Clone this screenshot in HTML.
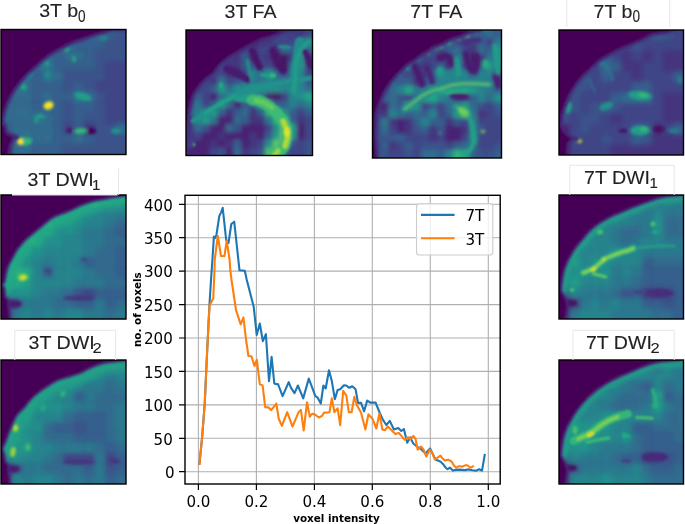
<!DOCTYPE html><html><head><meta charset="utf-8"><title>Figure</title><style>
html,body{margin:0;padding:0;background:#fff;width:685px;height:524px;overflow:hidden}
svg{display:block}
.t{font-family:"Liberation Sans",Arial,sans-serif;font-size:18.5px;fill:#222;stroke:#222;stroke-width:0.12px}
.tk{font-family:"DejaVu Sans",sans-serif;font-size:15.1px;fill:#000}
.sb{font-size:15px}
.lb{font-family:"DejaVu Sans",sans-serif;font-size:10.4px;font-weight:bold;fill:#000}
</style></head><body>
<svg width="685" height="524" viewBox="0 0 685 524">
<defs><filter id="soft" x="0" y="0" width="100%" height="100%" filterUnits="userSpaceOnUse"><feGaussianBlur stdDeviation="0.45"/></filter></defs>
<g filter="url(#soft)">
<rect width="685" height="524" fill="#fff"/>
<defs><clipPath id="cp1"><rect x="1.00" y="29.50" width="125.00" height="125.00"/></clipPath><filter id="bp1" x="-20%" y="-20%" width="140%" height="140%"><feGaussianBlur stdDeviation="2.80"/></filter><filter id="fp1" x="-50%" y="-50%" width="200%" height="200%"><feGaussianBlur stdDeviation="1.50"/></filter><clipPath id="cp2"><rect x="186.00" y="30.00" width="126.50" height="125.50"/></clipPath><filter id="bp2" x="-20%" y="-20%" width="140%" height="140%"><feGaussianBlur stdDeviation="2.20"/></filter><filter id="fp2" x="-50%" y="-50%" width="200%" height="200%"><feGaussianBlur stdDeviation="1.30"/></filter><clipPath id="cp3"><rect x="372.50" y="30.00" width="129.00" height="128.00"/></clipPath><filter id="bp3" x="-20%" y="-20%" width="140%" height="140%"><feGaussianBlur stdDeviation="2.20"/></filter><filter id="fp3" x="-50%" y="-50%" width="200%" height="200%"><feGaussianBlur stdDeviation="1.50"/></filter><clipPath id="cp4"><rect x="559.00" y="30.00" width="124.50" height="125.00"/></clipPath><filter id="bp4" x="-20%" y="-20%" width="140%" height="140%"><feGaussianBlur stdDeviation="2.80"/></filter><filter id="fp4" x="-50%" y="-50%" width="200%" height="200%"><feGaussianBlur stdDeviation="1.50"/></filter><clipPath id="cp5"><rect x="1.00" y="195.00" width="125.00" height="124.00"/></clipPath><filter id="bp5" x="-20%" y="-20%" width="140%" height="140%"><feGaussianBlur stdDeviation="2.80"/></filter><filter id="fp5" x="-50%" y="-50%" width="200%" height="200%"><feGaussianBlur stdDeviation="1.50"/></filter><filter id="cxp5" x="-20%" y="-20%" width="140%" height="140%"><feGaussianBlur stdDeviation="3.00"/></filter><clipPath id="cp6"><rect x="1.00" y="360.00" width="125.00" height="124.00"/></clipPath><filter id="bp6" x="-20%" y="-20%" width="140%" height="140%"><feGaussianBlur stdDeviation="2.80"/></filter><filter id="fp6" x="-50%" y="-50%" width="200%" height="200%"><feGaussianBlur stdDeviation="1.50"/></filter><filter id="cxp6" x="-20%" y="-20%" width="140%" height="140%"><feGaussianBlur stdDeviation="3.00"/></filter><clipPath id="cp7"><rect x="559.00" y="195.00" width="124.50" height="124.00"/></clipPath><filter id="bp7" x="-20%" y="-20%" width="140%" height="140%"><feGaussianBlur stdDeviation="2.80"/></filter><filter id="fp7" x="-50%" y="-50%" width="200%" height="200%"><feGaussianBlur stdDeviation="1.00"/></filter><filter id="cxp7" x="-20%" y="-20%" width="140%" height="140%"><feGaussianBlur stdDeviation="2.20"/></filter><clipPath id="cp8"><rect x="559.00" y="360.00" width="124.50" height="124.00"/></clipPath><filter id="bp8" x="-20%" y="-20%" width="140%" height="140%"><feGaussianBlur stdDeviation="2.80"/></filter><filter id="fp8" x="-50%" y="-50%" width="200%" height="200%"><feGaussianBlur stdDeviation="1.00"/></filter><filter id="cxp8" x="-20%" y="-20%" width="140%" height="140%"><feGaussianBlur stdDeviation="2.20"/></filter><filter id="edge" x="-5%" y="-5%" width="110%" height="110%"><feGaussianBlur stdDeviation="1.0"/></filter></defs>
<g clip-path="url(#cp1)">
<rect x="1.00" y="29.50" width="125.00" height="125.00" fill="#440154"/>
<g filter="url(#bp1)"><rect x="-9.00" y="19.50" width="20.72" height="20.72" fill="#306c8e"/><rect x="11.42" y="19.50" width="10.72" height="20.72" fill="#306c8e"/><rect x="21.83" y="19.50" width="10.72" height="20.72" fill="#306c8e"/><rect x="32.25" y="19.50" width="10.72" height="20.72" fill="#306c8e"/><rect x="42.67" y="19.50" width="10.72" height="20.72" fill="#306c8e"/><rect x="53.08" y="19.50" width="10.72" height="20.72" fill="#306c8e"/><rect x="63.50" y="19.50" width="10.72" height="20.72" fill="#306c8e"/><rect x="73.92" y="19.50" width="10.72" height="20.72" fill="#355f8d"/><rect x="84.33" y="19.50" width="10.72" height="20.72" fill="#32658d"/><rect x="94.75" y="19.50" width="10.72" height="20.72" fill="#306c8e"/><rect x="105.17" y="19.50" width="10.72" height="20.72" fill="#355f8d"/><rect x="115.58" y="19.50" width="20.72" height="20.72" fill="#3b528a"/><rect x="-9.00" y="39.92" width="20.72" height="10.72" fill="#306c8e"/><rect x="11.42" y="39.92" width="10.72" height="10.72" fill="#306c8e"/><rect x="21.83" y="39.92" width="10.72" height="10.72" fill="#306c8e"/><rect x="32.25" y="39.92" width="10.72" height="10.72" fill="#306c8e"/><rect x="42.67" y="39.92" width="10.72" height="10.72" fill="#306c8e"/><rect x="53.08" y="39.92" width="10.72" height="10.72" fill="#32658d"/><rect x="63.50" y="39.92" width="10.72" height="10.72" fill="#306c8e"/><rect x="73.92" y="39.92" width="10.72" height="10.72" fill="#355f8d"/><rect x="84.33" y="39.92" width="10.72" height="10.72" fill="#355f8d"/><rect x="94.75" y="39.92" width="10.72" height="10.72" fill="#355f8d"/><rect x="105.17" y="39.92" width="10.72" height="10.72" fill="#3b528a"/><rect x="115.58" y="39.92" width="20.72" height="10.72" fill="#3b528a"/><rect x="-9.00" y="50.33" width="20.72" height="10.72" fill="#306c8e"/><rect x="11.42" y="50.33" width="10.72" height="10.72" fill="#306c8e"/><rect x="21.83" y="50.33" width="10.72" height="10.72" fill="#306c8e"/><rect x="32.25" y="50.33" width="10.72" height="10.72" fill="#306c8e"/><rect x="42.67" y="50.33" width="10.72" height="10.72" fill="#306c8e"/><rect x="53.08" y="50.33" width="10.72" height="10.72" fill="#355f8d"/><rect x="63.50" y="50.33" width="10.72" height="10.72" fill="#306c8e"/><rect x="73.92" y="50.33" width="10.72" height="10.72" fill="#306c8e"/><rect x="84.33" y="50.33" width="10.72" height="10.72" fill="#355f8d"/><rect x="94.75" y="50.33" width="10.72" height="10.72" fill="#3b528a"/><rect x="105.17" y="50.33" width="10.72" height="10.72" fill="#3b528a"/><rect x="115.58" y="50.33" width="20.72" height="10.72" fill="#3b528a"/><rect x="-9.00" y="60.75" width="20.72" height="10.72" fill="#2d728e"/><rect x="11.42" y="60.75" width="10.72" height="10.72" fill="#306c8e"/><rect x="21.83" y="60.75" width="10.72" height="10.72" fill="#306c8e"/><rect x="32.25" y="60.75" width="10.72" height="10.72" fill="#306c8e"/><rect x="42.67" y="60.75" width="10.72" height="10.72" fill="#2a788e"/><rect x="53.08" y="60.75" width="10.72" height="10.72" fill="#355f8d"/><rect x="63.50" y="60.75" width="10.72" height="10.72" fill="#355f8d"/><rect x="73.92" y="60.75" width="10.72" height="10.72" fill="#355f8d"/><rect x="84.33" y="60.75" width="10.72" height="10.72" fill="#355f8d"/><rect x="94.75" y="60.75" width="10.72" height="10.72" fill="#3b528a"/><rect x="105.17" y="60.75" width="10.72" height="10.72" fill="#414487"/><rect x="115.58" y="60.75" width="20.72" height="10.72" fill="#414487"/><rect x="-9.00" y="71.17" width="20.72" height="10.72" fill="#2a788e"/><rect x="11.42" y="71.17" width="10.72" height="10.72" fill="#2d728e"/><rect x="21.83" y="71.17" width="10.72" height="10.72" fill="#306c8e"/><rect x="32.25" y="71.17" width="10.72" height="10.72" fill="#355f8d"/><rect x="42.67" y="71.17" width="10.72" height="10.72" fill="#2a788e"/><rect x="53.08" y="71.17" width="10.72" height="10.72" fill="#306c8e"/><rect x="63.50" y="71.17" width="10.72" height="10.72" fill="#3b528a"/><rect x="73.92" y="71.17" width="10.72" height="10.72" fill="#3b528a"/><rect x="84.33" y="71.17" width="10.72" height="10.72" fill="#3b528a"/><rect x="94.75" y="71.17" width="10.72" height="10.72" fill="#3b528a"/><rect x="105.17" y="71.17" width="10.72" height="10.72" fill="#414487"/><rect x="115.58" y="71.17" width="20.72" height="10.72" fill="#414487"/><rect x="-9.00" y="81.58" width="20.72" height="10.72" fill="#306c8e"/><rect x="11.42" y="81.58" width="10.72" height="10.72" fill="#2a788e"/><rect x="21.83" y="81.58" width="10.72" height="10.72" fill="#306c8e"/><rect x="32.25" y="81.58" width="10.72" height="10.72" fill="#355f8d"/><rect x="42.67" y="81.58" width="10.72" height="10.72" fill="#355f8d"/><rect x="53.08" y="81.58" width="10.72" height="10.72" fill="#355f8d"/><rect x="63.50" y="81.58" width="10.72" height="10.72" fill="#3b528a"/><rect x="73.92" y="81.58" width="10.72" height="10.72" fill="#355f8d"/><rect x="84.33" y="81.58" width="10.72" height="10.72" fill="#3b528a"/><rect x="94.75" y="81.58" width="10.72" height="10.72" fill="#414487"/><rect x="105.17" y="81.58" width="10.72" height="10.72" fill="#414487"/><rect x="115.58" y="81.58" width="20.72" height="10.72" fill="#414487"/><rect x="-9.00" y="92.00" width="20.72" height="10.72" fill="#355f8d"/><rect x="11.42" y="92.00" width="10.72" height="10.72" fill="#306c8e"/><rect x="21.83" y="92.00" width="10.72" height="10.72" fill="#306c8e"/><rect x="32.25" y="92.00" width="10.72" height="10.72" fill="#355f8d"/><rect x="42.67" y="92.00" width="10.72" height="10.72" fill="#306c8e"/><rect x="53.08" y="92.00" width="10.72" height="10.72" fill="#355f8d"/><rect x="63.50" y="92.00" width="10.72" height="10.72" fill="#355f8d"/><rect x="73.92" y="92.00" width="10.72" height="10.72" fill="#2a788e"/><rect x="84.33" y="92.00" width="10.72" height="10.72" fill="#306c8e"/><rect x="94.75" y="92.00" width="10.72" height="10.72" fill="#3b528a"/><rect x="105.17" y="92.00" width="10.72" height="10.72" fill="#414487"/><rect x="115.58" y="92.00" width="20.72" height="10.72" fill="#414487"/><rect x="-9.00" y="102.42" width="20.72" height="10.72" fill="#306c8e"/><rect x="11.42" y="102.42" width="10.72" height="10.72" fill="#306c8e"/><rect x="21.83" y="102.42" width="10.72" height="10.72" fill="#306c8e"/><rect x="32.25" y="102.42" width="10.72" height="10.72" fill="#355f8d"/><rect x="42.67" y="102.42" width="10.72" height="10.72" fill="#355f8d"/><rect x="53.08" y="102.42" width="10.72" height="10.72" fill="#355f8d"/><rect x="63.50" y="102.42" width="10.72" height="10.72" fill="#3b528a"/><rect x="73.92" y="102.42" width="10.72" height="10.72" fill="#355f8d"/><rect x="84.33" y="102.42" width="10.72" height="10.72" fill="#355f8d"/><rect x="94.75" y="102.42" width="10.72" height="10.72" fill="#3b528a"/><rect x="105.17" y="102.42" width="10.72" height="10.72" fill="#414487"/><rect x="115.58" y="102.42" width="20.72" height="10.72" fill="#414487"/><rect x="-9.00" y="112.83" width="20.72" height="10.72" fill="#306c8e"/><rect x="11.42" y="112.83" width="10.72" height="10.72" fill="#306c8e"/><rect x="21.83" y="112.83" width="10.72" height="10.72" fill="#306c8e"/><rect x="32.25" y="112.83" width="10.72" height="10.72" fill="#2a788e"/><rect x="42.67" y="112.83" width="10.72" height="10.72" fill="#306c8e"/><rect x="53.08" y="112.83" width="10.72" height="10.72" fill="#355f8d"/><rect x="63.50" y="112.83" width="10.72" height="10.72" fill="#3b528a"/><rect x="73.92" y="112.83" width="10.72" height="10.72" fill="#355f8d"/><rect x="84.33" y="112.83" width="10.72" height="10.72" fill="#3b528a"/><rect x="94.75" y="112.83" width="10.72" height="10.72" fill="#3b528a"/><rect x="105.17" y="112.83" width="10.72" height="10.72" fill="#414487"/><rect x="115.58" y="112.83" width="20.72" height="10.72" fill="#414487"/><rect x="-9.00" y="123.25" width="20.72" height="10.72" fill="#355f8d"/><rect x="11.42" y="123.25" width="10.72" height="10.72" fill="#306c8e"/><rect x="21.83" y="123.25" width="10.72" height="10.72" fill="#306c8e"/><rect x="32.25" y="123.25" width="10.72" height="10.72" fill="#306c8e"/><rect x="42.67" y="123.25" width="10.72" height="10.72" fill="#306c8e"/><rect x="53.08" y="123.25" width="10.72" height="10.72" fill="#355f8d"/><rect x="63.50" y="123.25" width="10.72" height="10.72" fill="#414487"/><rect x="73.92" y="123.25" width="10.72" height="10.72" fill="#355f8d"/><rect x="84.33" y="123.25" width="10.72" height="10.72" fill="#44347e"/><rect x="94.75" y="123.25" width="10.72" height="10.72" fill="#3b528a"/><rect x="105.17" y="123.25" width="10.72" height="10.72" fill="#3b528a"/><rect x="115.58" y="123.25" width="20.72" height="10.72" fill="#306c8e"/><rect x="-9.00" y="133.67" width="20.72" height="10.72" fill="#482475"/><rect x="11.42" y="133.67" width="10.72" height="10.72" fill="#306c8e"/><rect x="21.83" y="133.67" width="10.72" height="10.72" fill="#2a788e"/><rect x="32.25" y="133.67" width="10.72" height="10.72" fill="#306c8e"/><rect x="42.67" y="133.67" width="10.72" height="10.72" fill="#306c8e"/><rect x="53.08" y="133.67" width="10.72" height="10.72" fill="#355f8d"/><rect x="63.50" y="133.67" width="10.72" height="10.72" fill="#355f8d"/><rect x="73.92" y="133.67" width="10.72" height="10.72" fill="#306c8e"/><rect x="84.33" y="133.67" width="10.72" height="10.72" fill="#355f8d"/><rect x="94.75" y="133.67" width="10.72" height="10.72" fill="#3b528a"/><rect x="105.17" y="133.67" width="10.72" height="10.72" fill="#3b528a"/><rect x="115.58" y="133.67" width="20.72" height="10.72" fill="#3b528a"/><rect x="-9.00" y="144.08" width="20.72" height="20.72" fill="#461264"/><rect x="11.42" y="144.08" width="10.72" height="20.72" fill="#306c8e"/><rect x="21.83" y="144.08" width="10.72" height="20.72" fill="#306c8e"/><rect x="32.25" y="144.08" width="10.72" height="20.72" fill="#355f8d"/><rect x="42.67" y="144.08" width="10.72" height="20.72" fill="#355f8d"/><rect x="53.08" y="144.08" width="10.72" height="20.72" fill="#355f8d"/><rect x="63.50" y="144.08" width="10.72" height="20.72" fill="#3b528a"/><rect x="73.92" y="144.08" width="10.72" height="20.72" fill="#3b528a"/><rect x="84.33" y="144.08" width="10.72" height="20.72" fill="#3b528a"/><rect x="94.75" y="144.08" width="10.72" height="20.72" fill="#3b528a"/><rect x="105.17" y="144.08" width="10.72" height="20.72" fill="#3b528a"/><rect x="115.58" y="144.08" width="20.72" height="20.72" fill="#3b528a"/></g>
<g filter="url(#fp1)">
<ellipse cx="48.5" cy="105.5" rx="5.2" ry="4.0" fill="#dde326" transform="rotate(-20.0 48.5 105.5)"/>
<ellipse cx="49.0" cy="105.0" rx="3.0" ry="2.2" fill="#fde725" transform="rotate(-20.0 49.0 105.0)"/>
<ellipse cx="25.0" cy="141.5" rx="7.0" ry="4.0" fill="#33b47a" transform="rotate(-5.0 25.0 141.5)"/>
<ellipse cx="20.2" cy="141.5" rx="2.8" ry="3.4" fill="#fde725" transform="rotate(0.0 20.2 141.5)"/>
<ellipse cx="83.0" cy="96.5" rx="9.0" ry="3.5" fill="#229f87" transform="rotate(15.0 83.0 96.5)"/>
<ellipse cx="80.5" cy="131.0" rx="6.5" ry="3.0" fill="#36b678" transform="rotate(-5.0 80.5 131.0)"/>
<ellipse cx="69.5" cy="130.5" rx="3.0" ry="2.0" fill="#45085b" transform="rotate(0.0 69.5 130.5)"/>
<ellipse cx="91.5" cy="131.0" rx="4.5" ry="3.0" fill="#440154" transform="rotate(0.0 91.5 131.0)"/>
<path d="M36.0 122.0 L37.0 117.0 L41.0 115.5 L44.0 117.0" fill="none" stroke="#22a884" stroke-width="2.5" stroke-linecap="round" stroke-linejoin="round"/>
<ellipse cx="67.0" cy="49.5" rx="3.0" ry="2.0" fill="#22a884" transform="rotate(-30.0 67.0 49.5)"/>
<ellipse cx="74.0" cy="59.0" rx="1.8" ry="3.5" fill="#22a884" transform="rotate(-10.0 74.0 59.0)"/>
<ellipse cx="46.5" cy="63.0" rx="2.0" ry="3.5" fill="#229c88" transform="rotate(-30.0 46.5 63.0)"/>
<ellipse cx="47.5" cy="75.0" rx="1.8" ry="3.0" fill="#21918c" transform="rotate(0.0 47.5 75.0)"/>
<ellipse cx="30.0" cy="75.0" rx="2.0" ry="3.5" fill="#26848d" transform="rotate(40.0 30.0 75.0)"/>
<ellipse cx="23.5" cy="87.0" rx="2.5" ry="3.5" fill="#22a884" transform="rotate(-30.0 23.5 87.0)"/>
<ellipse cx="103.5" cy="38.0" rx="4.0" ry="3.0" fill="#287d8e" transform="rotate(0.0 103.5 38.0)"/>
<ellipse cx="116.0" cy="131.0" rx="5.0" ry="3.0" fill="#21918c" transform="rotate(0.0 116.0 131.0)"/>
</g>
<path d="M115.0 29.5 C113.2 30.0 108.0 31.5 104.4 32.5 C100.8 33.5 97.1 34.4 93.4 35.6 C89.8 36.8 86.1 38.2 82.5 39.5 C78.9 40.8 75.2 41.8 71.6 43.4 C67.9 45.0 64.0 47.1 60.6 48.9 C57.2 50.7 54.4 52.2 51.3 54.3 C48.2 56.4 44.8 59.0 41.9 61.4 C39.0 63.8 36.7 66.1 34.1 68.4 C31.5 70.7 28.7 73.0 26.3 75.4 C23.9 77.8 21.8 80.7 20.0 83.0 C18.2 85.3 16.8 87.2 15.5 89.0 C14.2 90.8 13.7 91.5 12.3 94.0 C10.9 96.5 8.7 100.5 7.3 104.2 C5.9 107.9 4.4 113.0 3.7 116.4 C3.0 119.8 3.3 123.1 3.2 124.4 L5.0 125.0 L6.0 130.0 L7.3 133.3 L12.0 135.0 L17.6 137.0 L13.0 140.2 L10.7 145.5 L9.2 153.2 L9.0 160.0 L-5.0 160.0 L-5.0 -5.0 L131.0 -5.0 L131.0 29.5Z" fill="#440154" stroke="#472a79" stroke-width="3.0" stroke-linejoin="round" filter="url(#edge)"/>
</g>
<rect x="1.00" y="29.50" width="125.00" height="125.00" fill="none" stroke="#000" stroke-width="1.4"/>
<g clip-path="url(#cp2)">
<rect x="186.00" y="30.00" width="126.50" height="125.50" fill="#440154"/>
<g filter="url(#bp2)"><rect x="176.00" y="20.00" width="18.21" height="18.14" fill="#414487"/><rect x="193.91" y="20.00" width="8.21" height="18.14" fill="#414487"/><rect x="201.81" y="20.00" width="8.21" height="18.14" fill="#414487"/><rect x="209.72" y="20.00" width="8.21" height="18.14" fill="#414487"/><rect x="217.62" y="20.00" width="8.21" height="18.14" fill="#414487"/><rect x="225.53" y="20.00" width="8.21" height="18.14" fill="#414487"/><rect x="233.44" y="20.00" width="8.21" height="18.14" fill="#44347e"/><rect x="241.34" y="20.00" width="8.21" height="18.14" fill="#482475"/><rect x="249.25" y="20.00" width="8.21" height="18.14" fill="#482475"/><rect x="257.16" y="20.00" width="8.21" height="18.14" fill="#44347e"/><rect x="265.06" y="20.00" width="8.21" height="18.14" fill="#44347e"/><rect x="272.97" y="20.00" width="8.21" height="18.14" fill="#414487"/><rect x="280.88" y="20.00" width="8.21" height="18.14" fill="#414487"/><rect x="288.78" y="20.00" width="8.21" height="18.14" fill="#433c82"/><rect x="296.69" y="20.00" width="8.21" height="18.14" fill="#44347e"/><rect x="304.59" y="20.00" width="18.21" height="18.14" fill="#414487"/><rect x="176.00" y="37.84" width="18.21" height="8.14" fill="#414487"/><rect x="193.91" y="37.84" width="8.21" height="8.14" fill="#414487"/><rect x="201.81" y="37.84" width="8.21" height="8.14" fill="#414487"/><rect x="209.72" y="37.84" width="8.21" height="8.14" fill="#414487"/><rect x="217.62" y="37.84" width="8.21" height="8.14" fill="#414487"/><rect x="225.53" y="37.84" width="8.21" height="8.14" fill="#414487"/><rect x="233.44" y="37.84" width="8.21" height="8.14" fill="#414487"/><rect x="241.34" y="37.84" width="8.21" height="8.14" fill="#44347e"/><rect x="249.25" y="37.84" width="8.21" height="8.14" fill="#482475"/><rect x="257.16" y="37.84" width="8.21" height="8.14" fill="#44347e"/><rect x="265.06" y="37.84" width="8.21" height="8.14" fill="#44347e"/><rect x="272.97" y="37.84" width="8.21" height="8.14" fill="#414487"/><rect x="280.88" y="37.84" width="8.21" height="8.14" fill="#414487"/><rect x="288.78" y="37.84" width="8.21" height="8.14" fill="#414487"/><rect x="296.69" y="37.84" width="8.21" height="8.14" fill="#306c8e"/><rect x="304.59" y="37.84" width="18.21" height="8.14" fill="#21918c"/><rect x="176.00" y="45.69" width="18.21" height="8.14" fill="#414487"/><rect x="193.91" y="45.69" width="8.21" height="8.14" fill="#414487"/><rect x="201.81" y="45.69" width="8.21" height="8.14" fill="#414487"/><rect x="209.72" y="45.69" width="8.21" height="8.14" fill="#414487"/><rect x="217.62" y="45.69" width="8.21" height="8.14" fill="#414487"/><rect x="225.53" y="45.69" width="8.21" height="8.14" fill="#414487"/><rect x="233.44" y="45.69" width="8.21" height="8.14" fill="#433c82"/><rect x="241.34" y="45.69" width="8.21" height="8.14" fill="#414487"/><rect x="249.25" y="45.69" width="8.21" height="8.14" fill="#44347e"/><rect x="257.16" y="45.69" width="8.21" height="8.14" fill="#414487"/><rect x="265.06" y="45.69" width="8.21" height="8.14" fill="#414487"/><rect x="272.97" y="45.69" width="8.21" height="8.14" fill="#44347e"/><rect x="280.88" y="45.69" width="8.21" height="8.14" fill="#306c8e"/><rect x="288.78" y="45.69" width="8.21" height="8.14" fill="#355f8d"/><rect x="296.69" y="45.69" width="8.21" height="8.14" fill="#21918c"/><rect x="304.59" y="45.69" width="18.21" height="8.14" fill="#306c8e"/><rect x="176.00" y="53.53" width="18.21" height="8.14" fill="#414487"/><rect x="193.91" y="53.53" width="8.21" height="8.14" fill="#414487"/><rect x="201.81" y="53.53" width="8.21" height="8.14" fill="#414487"/><rect x="209.72" y="53.53" width="8.21" height="8.14" fill="#414487"/><rect x="217.62" y="53.53" width="8.21" height="8.14" fill="#414487"/><rect x="225.53" y="53.53" width="8.21" height="8.14" fill="#414487"/><rect x="233.44" y="53.53" width="8.21" height="8.14" fill="#44347e"/><rect x="241.34" y="53.53" width="8.21" height="8.14" fill="#355f8d"/><rect x="249.25" y="53.53" width="8.21" height="8.14" fill="#482475"/><rect x="257.16" y="53.53" width="8.21" height="8.14" fill="#414487"/><rect x="265.06" y="53.53" width="8.21" height="8.14" fill="#44347e"/><rect x="272.97" y="53.53" width="8.21" height="8.14" fill="#482475"/><rect x="280.88" y="53.53" width="8.21" height="8.14" fill="#461264"/><rect x="288.78" y="53.53" width="8.21" height="8.14" fill="#414487"/><rect x="296.69" y="53.53" width="8.21" height="8.14" fill="#21918c"/><rect x="304.59" y="53.53" width="18.21" height="8.14" fill="#44347e"/><rect x="176.00" y="61.38" width="18.21" height="8.14" fill="#414487"/><rect x="193.91" y="61.38" width="8.21" height="8.14" fill="#414487"/><rect x="201.81" y="61.38" width="8.21" height="8.14" fill="#414487"/><rect x="209.72" y="61.38" width="8.21" height="8.14" fill="#414487"/><rect x="217.62" y="61.38" width="8.21" height="8.14" fill="#414487"/><rect x="225.53" y="61.38" width="8.21" height="8.14" fill="#44347e"/><rect x="233.44" y="61.38" width="8.21" height="8.14" fill="#44347e"/><rect x="241.34" y="61.38" width="8.21" height="8.14" fill="#355f8d"/><rect x="249.25" y="61.38" width="8.21" height="8.14" fill="#3b528a"/><rect x="257.16" y="61.38" width="8.21" height="8.14" fill="#414487"/><rect x="265.06" y="61.38" width="8.21" height="8.14" fill="#414487"/><rect x="272.97" y="61.38" width="8.21" height="8.14" fill="#482475"/><rect x="280.88" y="61.38" width="8.21" height="8.14" fill="#461264"/><rect x="288.78" y="61.38" width="8.21" height="8.14" fill="#306c8e"/><rect x="296.69" y="61.38" width="8.21" height="8.14" fill="#229c88"/><rect x="304.59" y="61.38" width="18.21" height="8.14" fill="#44347e"/><rect x="176.00" y="69.22" width="18.21" height="8.14" fill="#414487"/><rect x="193.91" y="69.22" width="8.21" height="8.14" fill="#414487"/><rect x="201.81" y="69.22" width="8.21" height="8.14" fill="#414487"/><rect x="209.72" y="69.22" width="8.21" height="8.14" fill="#414487"/><rect x="217.62" y="69.22" width="8.21" height="8.14" fill="#414487"/><rect x="225.53" y="69.22" width="8.21" height="8.14" fill="#44347e"/><rect x="233.44" y="69.22" width="8.21" height="8.14" fill="#482475"/><rect x="241.34" y="69.22" width="8.21" height="8.14" fill="#414487"/><rect x="249.25" y="69.22" width="8.21" height="8.14" fill="#26848d"/><rect x="257.16" y="69.22" width="8.21" height="8.14" fill="#306c8e"/><rect x="265.06" y="69.22" width="8.21" height="8.14" fill="#21918c"/><rect x="272.97" y="69.22" width="8.21" height="8.14" fill="#355f8d"/><rect x="280.88" y="69.22" width="8.21" height="8.14" fill="#414487"/><rect x="288.78" y="69.22" width="8.21" height="8.14" fill="#2a788e"/><rect x="296.69" y="69.22" width="8.21" height="8.14" fill="#26848d"/><rect x="304.59" y="69.22" width="18.21" height="8.14" fill="#414487"/><rect x="176.00" y="77.06" width="18.21" height="8.14" fill="#414487"/><rect x="193.91" y="77.06" width="8.21" height="8.14" fill="#414487"/><rect x="201.81" y="77.06" width="8.21" height="8.14" fill="#414487"/><rect x="209.72" y="77.06" width="8.21" height="8.14" fill="#44347e"/><rect x="217.62" y="77.06" width="8.21" height="8.14" fill="#2a788e"/><rect x="225.53" y="77.06" width="8.21" height="8.14" fill="#414487"/><rect x="233.44" y="77.06" width="8.21" height="8.14" fill="#3b528a"/><rect x="241.34" y="77.06" width="8.21" height="8.14" fill="#306c8e"/><rect x="249.25" y="77.06" width="8.21" height="8.14" fill="#2a788e"/><rect x="257.16" y="77.06" width="8.21" height="8.14" fill="#2a788e"/><rect x="265.06" y="77.06" width="8.21" height="8.14" fill="#26848d"/><rect x="272.97" y="77.06" width="8.21" height="8.14" fill="#2a788e"/><rect x="280.88" y="77.06" width="8.21" height="8.14" fill="#2a788e"/><rect x="288.78" y="77.06" width="8.21" height="8.14" fill="#26848d"/><rect x="296.69" y="77.06" width="8.21" height="8.14" fill="#26848d"/><rect x="304.59" y="77.06" width="18.21" height="8.14" fill="#3b528a"/><rect x="176.00" y="84.91" width="18.21" height="8.14" fill="#433c82"/><rect x="193.91" y="84.91" width="8.21" height="8.14" fill="#414487"/><rect x="201.81" y="84.91" width="8.21" height="8.14" fill="#414487"/><rect x="209.72" y="84.91" width="8.21" height="8.14" fill="#355f8d"/><rect x="217.62" y="84.91" width="8.21" height="8.14" fill="#229c88"/><rect x="225.53" y="84.91" width="8.21" height="8.14" fill="#306c8e"/><rect x="233.44" y="84.91" width="8.21" height="8.14" fill="#21918c"/><rect x="241.34" y="84.91" width="8.21" height="8.14" fill="#21918c"/><rect x="249.25" y="84.91" width="8.21" height="8.14" fill="#229c88"/><rect x="257.16" y="84.91" width="8.21" height="8.14" fill="#21918c"/><rect x="265.06" y="84.91" width="8.21" height="8.14" fill="#21918c"/><rect x="272.97" y="84.91" width="8.21" height="8.14" fill="#21918c"/><rect x="280.88" y="84.91" width="8.21" height="8.14" fill="#26848d"/><rect x="288.78" y="84.91" width="8.21" height="8.14" fill="#21918c"/><rect x="296.69" y="84.91" width="8.21" height="8.14" fill="#26848d"/><rect x="304.59" y="84.91" width="18.21" height="8.14" fill="#306c8e"/><rect x="176.00" y="92.75" width="18.21" height="8.14" fill="#44347e"/><rect x="193.91" y="92.75" width="8.21" height="8.14" fill="#355f8d"/><rect x="201.81" y="92.75" width="8.21" height="8.14" fill="#414487"/><rect x="209.72" y="92.75" width="8.21" height="8.14" fill="#482475"/><rect x="217.62" y="92.75" width="8.21" height="8.14" fill="#306c8e"/><rect x="225.53" y="92.75" width="8.21" height="8.14" fill="#21918c"/><rect x="233.44" y="92.75" width="8.21" height="8.14" fill="#21918c"/><rect x="241.34" y="92.75" width="8.21" height="8.14" fill="#229c88"/><rect x="249.25" y="92.75" width="8.21" height="8.14" fill="#26848d"/><rect x="257.16" y="92.75" width="8.21" height="8.14" fill="#2a788e"/><rect x="265.06" y="92.75" width="8.21" height="8.14" fill="#482475"/><rect x="272.97" y="92.75" width="8.21" height="8.14" fill="#461264"/><rect x="280.88" y="92.75" width="8.21" height="8.14" fill="#414487"/><rect x="288.78" y="92.75" width="8.21" height="8.14" fill="#26848d"/><rect x="296.69" y="92.75" width="8.21" height="8.14" fill="#21918c"/><rect x="304.59" y="92.75" width="18.21" height="8.14" fill="#22a884"/><rect x="176.00" y="100.59" width="18.21" height="8.14" fill="#414487"/><rect x="193.91" y="100.59" width="8.21" height="8.14" fill="#2a788e"/><rect x="201.81" y="100.59" width="8.21" height="8.14" fill="#414487"/><rect x="209.72" y="100.59" width="8.21" height="8.14" fill="#355f8d"/><rect x="217.62" y="100.59" width="8.21" height="8.14" fill="#229c88"/><rect x="225.53" y="100.59" width="8.21" height="8.14" fill="#306c8e"/><rect x="233.44" y="100.59" width="8.21" height="8.14" fill="#482475"/><rect x="241.34" y="100.59" width="8.21" height="8.14" fill="#355f8d"/><rect x="249.25" y="100.59" width="8.21" height="8.14" fill="#355f8d"/><rect x="257.16" y="100.59" width="8.21" height="8.14" fill="#22a884"/><rect x="265.06" y="100.59" width="8.21" height="8.14" fill="#229c88"/><rect x="272.97" y="100.59" width="8.21" height="8.14" fill="#355f8d"/><rect x="280.88" y="100.59" width="8.21" height="8.14" fill="#355f8d"/><rect x="288.78" y="100.59" width="8.21" height="8.14" fill="#26848d"/><rect x="296.69" y="100.59" width="8.21" height="8.14" fill="#306c8e"/><rect x="304.59" y="100.59" width="18.21" height="8.14" fill="#26848d"/><rect x="176.00" y="108.44" width="18.21" height="8.14" fill="#355f8d"/><rect x="193.91" y="108.44" width="8.21" height="8.14" fill="#26848d"/><rect x="201.81" y="108.44" width="8.21" height="8.14" fill="#21918c"/><rect x="209.72" y="108.44" width="8.21" height="8.14" fill="#229c88"/><rect x="217.62" y="108.44" width="8.21" height="8.14" fill="#355f8d"/><rect x="225.53" y="108.44" width="8.21" height="8.14" fill="#44347e"/><rect x="233.44" y="108.44" width="8.21" height="8.14" fill="#355f8d"/><rect x="241.34" y="108.44" width="8.21" height="8.14" fill="#306c8e"/><rect x="249.25" y="108.44" width="8.21" height="8.14" fill="#44347e"/><rect x="257.16" y="108.44" width="8.21" height="8.14" fill="#355f8d"/><rect x="265.06" y="108.44" width="8.21" height="8.14" fill="#33b47a"/><rect x="272.97" y="108.44" width="8.21" height="8.14" fill="#33b47a"/><rect x="280.88" y="108.44" width="8.21" height="8.14" fill="#21918c"/><rect x="288.78" y="108.44" width="8.21" height="8.14" fill="#355f8d"/><rect x="296.69" y="108.44" width="8.21" height="8.14" fill="#414487"/><rect x="304.59" y="108.44" width="18.21" height="8.14" fill="#355f8d"/><rect x="176.00" y="116.28" width="18.21" height="8.14" fill="#44347e"/><rect x="193.91" y="116.28" width="8.21" height="8.14" fill="#26848d"/><rect x="201.81" y="116.28" width="8.21" height="8.14" fill="#229c88"/><rect x="209.72" y="116.28" width="8.21" height="8.14" fill="#2a788e"/><rect x="217.62" y="116.28" width="8.21" height="8.14" fill="#482475"/><rect x="225.53" y="116.28" width="8.21" height="8.14" fill="#482475"/><rect x="233.44" y="116.28" width="8.21" height="8.14" fill="#306c8e"/><rect x="241.34" y="116.28" width="8.21" height="8.14" fill="#355f8d"/><rect x="249.25" y="116.28" width="8.21" height="8.14" fill="#44347e"/><rect x="257.16" y="116.28" width="8.21" height="8.14" fill="#44347e"/><rect x="265.06" y="116.28" width="8.21" height="8.14" fill="#2a788e"/><rect x="272.97" y="116.28" width="8.21" height="8.14" fill="#33b47a"/><rect x="280.88" y="116.28" width="8.21" height="8.14" fill="#33b47a"/><rect x="288.78" y="116.28" width="8.21" height="8.14" fill="#355f8d"/><rect x="296.69" y="116.28" width="8.21" height="8.14" fill="#44347e"/><rect x="304.59" y="116.28" width="18.21" height="8.14" fill="#414487"/><rect x="176.00" y="124.12" width="18.21" height="8.14" fill="#44347e"/><rect x="193.91" y="124.12" width="8.21" height="8.14" fill="#306c8e"/><rect x="201.81" y="124.12" width="8.21" height="8.14" fill="#3b528a"/><rect x="209.72" y="124.12" width="8.21" height="8.14" fill="#482475"/><rect x="217.62" y="124.12" width="8.21" height="8.14" fill="#482475"/><rect x="225.53" y="124.12" width="8.21" height="8.14" fill="#306c8e"/><rect x="233.44" y="124.12" width="8.21" height="8.14" fill="#3b528a"/><rect x="241.34" y="124.12" width="8.21" height="8.14" fill="#482475"/><rect x="249.25" y="124.12" width="8.21" height="8.14" fill="#482475"/><rect x="257.16" y="124.12" width="8.21" height="8.14" fill="#482475"/><rect x="265.06" y="124.12" width="8.21" height="8.14" fill="#414487"/><rect x="272.97" y="124.12" width="8.21" height="8.14" fill="#21918c"/><rect x="280.88" y="124.12" width="8.21" height="8.14" fill="#7ad151"/><rect x="288.78" y="124.12" width="8.21" height="8.14" fill="#229c88"/><rect x="296.69" y="124.12" width="8.21" height="8.14" fill="#482475"/><rect x="304.59" y="124.12" width="18.21" height="8.14" fill="#414487"/><rect x="176.00" y="131.97" width="18.21" height="8.14" fill="#44347e"/><rect x="193.91" y="131.97" width="8.21" height="8.14" fill="#414487"/><rect x="201.81" y="131.97" width="8.21" height="8.14" fill="#482475"/><rect x="209.72" y="131.97" width="8.21" height="8.14" fill="#482475"/><rect x="217.62" y="131.97" width="8.21" height="8.14" fill="#44347e"/><rect x="225.53" y="131.97" width="8.21" height="8.14" fill="#482475"/><rect x="233.44" y="131.97" width="8.21" height="8.14" fill="#482475"/><rect x="241.34" y="131.97" width="8.21" height="8.14" fill="#482475"/><rect x="249.25" y="131.97" width="8.21" height="8.14" fill="#44347e"/><rect x="257.16" y="131.97" width="8.21" height="8.14" fill="#482475"/><rect x="265.06" y="131.97" width="8.21" height="8.14" fill="#355f8d"/><rect x="272.97" y="131.97" width="8.21" height="8.14" fill="#229c88"/><rect x="280.88" y="131.97" width="8.21" height="8.14" fill="#7ad151"/><rect x="288.78" y="131.97" width="8.21" height="8.14" fill="#21918c"/><rect x="296.69" y="131.97" width="8.21" height="8.14" fill="#482475"/><rect x="304.59" y="131.97" width="18.21" height="8.14" fill="#414487"/><rect x="176.00" y="139.81" width="18.21" height="8.14" fill="#414487"/><rect x="193.91" y="139.81" width="8.21" height="8.14" fill="#482475"/><rect x="201.81" y="139.81" width="8.21" height="8.14" fill="#482475"/><rect x="209.72" y="139.81" width="8.21" height="8.14" fill="#44347e"/><rect x="217.62" y="139.81" width="8.21" height="8.14" fill="#482475"/><rect x="225.53" y="139.81" width="8.21" height="8.14" fill="#44347e"/><rect x="233.44" y="139.81" width="8.21" height="8.14" fill="#355f8d"/><rect x="241.34" y="139.81" width="8.21" height="8.14" fill="#482475"/><rect x="249.25" y="139.81" width="8.21" height="8.14" fill="#44347e"/><rect x="257.16" y="139.81" width="8.21" height="8.14" fill="#414487"/><rect x="265.06" y="139.81" width="8.21" height="8.14" fill="#21918c"/><rect x="272.97" y="139.81" width="8.21" height="8.14" fill="#5fc860"/><rect x="280.88" y="139.81" width="8.21" height="8.14" fill="#33b47a"/><rect x="288.78" y="139.81" width="8.21" height="8.14" fill="#3b528a"/><rect x="296.69" y="139.81" width="8.21" height="8.14" fill="#414487"/><rect x="304.59" y="139.81" width="18.21" height="8.14" fill="#3b528a"/><rect x="176.00" y="147.66" width="18.21" height="18.14" fill="#482475"/><rect x="193.91" y="147.66" width="8.21" height="18.14" fill="#482475"/><rect x="201.81" y="147.66" width="8.21" height="18.14" fill="#482475"/><rect x="209.72" y="147.66" width="8.21" height="18.14" fill="#414487"/><rect x="217.62" y="147.66" width="8.21" height="18.14" fill="#3b528a"/><rect x="225.53" y="147.66" width="8.21" height="18.14" fill="#482475"/><rect x="233.44" y="147.66" width="8.21" height="18.14" fill="#306c8e"/><rect x="241.34" y="147.66" width="8.21" height="18.14" fill="#44347e"/><rect x="249.25" y="147.66" width="8.21" height="18.14" fill="#414487"/><rect x="257.16" y="147.66" width="8.21" height="18.14" fill="#3b528a"/><rect x="265.06" y="147.66" width="8.21" height="18.14" fill="#44bf70"/><rect x="272.97" y="147.66" width="8.21" height="18.14" fill="#44bf70"/><rect x="280.88" y="147.66" width="8.21" height="18.14" fill="#355f8d"/><rect x="288.78" y="147.66" width="8.21" height="18.14" fill="#414487"/><rect x="296.69" y="147.66" width="8.21" height="18.14" fill="#414487"/><rect x="304.59" y="147.66" width="18.21" height="18.14" fill="#3b528a"/></g>
<g filter="url(#fp2)">
<path d="M238.0 98.5 L246.0 99.5 L252.0 100.0" fill="none" stroke="#229c88" stroke-width="6.0" stroke-linecap="round" stroke-linejoin="round"/>
<path d="M252.0 100.0 L259.0 100.5 L266.0 104.0 L275.0 111.0 L282.0 119.0 L286.5 128.0 L287.0 137.0 L284.5 146.0 L279.0 153.0 L275.0 158.0" fill="none" stroke="#3dba74" stroke-width="11.0" stroke-linecap="round" stroke-linejoin="round"/>
<path d="M256.0 100.5 L264.0 102.5 L272.0 107.5" fill="none" stroke="#64ca5d" stroke-width="5.0" stroke-linecap="round" stroke-linejoin="round"/>
<path d="M300.0 42.0 L298.0 55.0 L296.0 68.0 L295.0 80.0" fill="none" stroke="#238c8c" stroke-width="10.0" stroke-linecap="round" stroke-linejoin="round"/>
<path d="M283.0 121.0 L287.0 130.0 L287.5 138.0 L285.0 146.0" fill="none" stroke="#b0dc2f" stroke-width="5.0" stroke-linecap="round" stroke-linejoin="round"/>
<ellipse cx="287.0" cy="132.0" rx="3.0" ry="5.0" fill="#dde326" transform="rotate(0.0 287.0 132.0)"/>
<path d="M278.0 151.0 L274.0 156.0" fill="none" stroke="#9cd83c" stroke-width="5.0" stroke-linecap="round" stroke-linejoin="round"/>
<path d="M193.0 121.0 L200.0 117.0 L210.0 110.0 L220.0 104.0 L232.0 97.0 L245.0 91.0 L258.0 87.0 L272.0 84.0 L285.0 82.0 L298.0 80.0 L312.0 78.0" fill="none" stroke="#21918c" stroke-width="5.0" stroke-linecap="round" stroke-linejoin="round"/>
<path d="M205.0 113.0 L215.0 107.0 L225.0 101.0 L235.0 96.0" fill="none" stroke="#22a884" stroke-width="2.5" stroke-linecap="round" stroke-linejoin="round"/>
<path d="M294.0 93.0 L295.0 80.0 L295.5 64.0 L300.0 52.0 L304.0 46.0 L309.0 42.0" fill="none" stroke="#229c88" stroke-width="4.0" stroke-linecap="round" stroke-linejoin="round"/>
<path d="M279.5 46.5 L289.0 47.5" fill="none" stroke="#21918c" stroke-width="3.0" stroke-linecap="round" stroke-linejoin="round"/>
<path d="M227.0 69.0 L238.0 74.0 L247.0 79.0" fill="none" stroke="#471d6e" stroke-width="7.0" stroke-linecap="round" stroke-linejoin="round"/>
<path d="M252.5 51.0 L256.0 60.0 L259.5 67.0" fill="none" stroke="#461668" stroke-width="6.5" stroke-linecap="round" stroke-linejoin="round"/>
<path d="M273.0 51.0 L278.0 62.0 L283.0 70.0" fill="none" stroke="#461668" stroke-width="7.5" stroke-linecap="round" stroke-linejoin="round"/>
<path d="M305.0 52.0 L309.0 60.0 L311.0 66.0" fill="none" stroke="#471d6e" stroke-width="6.0" stroke-linecap="round" stroke-linejoin="round"/>
<path d="M252.0 79.0 L249.0 70.0 L247.6 61.0" fill="none" stroke="#238c8c" stroke-width="3.5" stroke-linecap="round" stroke-linejoin="round"/>
<path d="M262.0 75.0 L273.4 76.4" fill="none" stroke="#229c88" stroke-width="4.0" stroke-linecap="round" stroke-linejoin="round"/>
<ellipse cx="272.8" cy="75.5" rx="3.5" ry="2.8" fill="#30b17c" transform="rotate(0.0 272.8 75.5)"/>
<ellipse cx="221.0" cy="85.0" rx="1.8" ry="2.5" fill="#29ad80" transform="rotate(0.0 221.0 85.0)"/>
<ellipse cx="188.0" cy="113.0" rx="1.2" ry="1.5" fill="#22a884" transform="rotate(0.0 188.0 113.0)"/>
<ellipse cx="194.0" cy="144.5" rx="1.3" ry="1.5" fill="#44bf70" transform="rotate(0.0 194.0 144.5)"/>
</g>
<path d="M292.0 29.5 C290.8 29.8 287.5 30.6 285.0 31.5 C282.5 32.4 279.8 33.9 276.9 35.0 C274.0 36.1 270.5 36.9 267.6 37.9 C264.7 38.9 262.3 39.5 259.4 40.8 C256.5 42.1 252.7 44.0 250.0 45.5 C247.3 47.0 245.7 48.0 243.0 49.6 C240.3 51.2 236.4 53.2 233.7 54.9 C231.0 56.5 229.0 57.8 226.7 59.5 C224.4 61.2 221.9 63.1 219.7 65.4 C217.5 67.7 216.2 70.7 213.6 73.3 C211.0 75.9 206.9 78.1 204.0 81.0 C201.1 83.9 198.3 87.7 196.4 90.5 C194.5 93.3 193.7 94.9 192.6 98.1 C191.5 101.3 190.6 105.7 189.8 109.5 C189.0 113.3 188.4 117.2 187.9 121.0 C187.4 124.8 187.1 125.9 186.9 132.4 C186.7 138.9 186.9 155.4 186.9 160.0 L180.0 160.0 L180.0 25.0Z" fill="#440154" stroke="#472a79" stroke-width="3.0" stroke-linejoin="round" filter="url(#edge)"/>
</g>
<rect x="186.00" y="30.00" width="126.50" height="125.50" fill="none" stroke="#000" stroke-width="1.4"/>
<g clip-path="url(#cp3)">
<rect x="372.50" y="30.00" width="129.00" height="128.00" fill="#440154"/>
<g filter="url(#bp3)"><rect x="362.50" y="20.00" width="18.36" height="18.30" fill="#306c8e"/><rect x="380.56" y="20.00" width="8.36" height="18.30" fill="#32658d"/><rect x="388.62" y="20.00" width="8.36" height="18.30" fill="#355f8d"/><rect x="396.69" y="20.00" width="8.36" height="18.30" fill="#355f8d"/><rect x="404.75" y="20.00" width="8.36" height="18.30" fill="#355f8d"/><rect x="412.81" y="20.00" width="8.36" height="18.30" fill="#3b528a"/><rect x="420.88" y="20.00" width="8.36" height="18.30" fill="#38588c"/><rect x="428.94" y="20.00" width="8.36" height="18.30" fill="#355f8d"/><rect x="437.00" y="20.00" width="8.36" height="18.30" fill="#355f8d"/><rect x="445.06" y="20.00" width="8.36" height="18.30" fill="#306c8e"/><rect x="453.12" y="20.00" width="8.36" height="18.30" fill="#3b528a"/><rect x="461.19" y="20.00" width="8.36" height="18.30" fill="#355f8d"/><rect x="469.25" y="20.00" width="8.36" height="18.30" fill="#3b528a"/><rect x="477.31" y="20.00" width="8.36" height="18.30" fill="#355f8d"/><rect x="485.38" y="20.00" width="8.36" height="18.30" fill="#306c8e"/><rect x="493.44" y="20.00" width="18.36" height="18.30" fill="#355f8d"/><rect x="362.50" y="38.00" width="18.36" height="8.30" fill="#355f8d"/><rect x="380.56" y="38.00" width="8.36" height="8.30" fill="#306c8e"/><rect x="388.62" y="38.00" width="8.36" height="8.30" fill="#32658d"/><rect x="396.69" y="38.00" width="8.36" height="8.30" fill="#355f8d"/><rect x="404.75" y="38.00" width="8.36" height="8.30" fill="#355f8d"/><rect x="412.81" y="38.00" width="8.36" height="8.30" fill="#355f8d"/><rect x="420.88" y="38.00" width="8.36" height="8.30" fill="#3b528a"/><rect x="428.94" y="38.00" width="8.36" height="8.30" fill="#38588c"/><rect x="437.00" y="38.00" width="8.36" height="8.30" fill="#355f8d"/><rect x="445.06" y="38.00" width="8.36" height="8.30" fill="#306c8e"/><rect x="453.12" y="38.00" width="8.36" height="8.30" fill="#414487"/><rect x="461.19" y="38.00" width="8.36" height="8.30" fill="#44347e"/><rect x="469.25" y="38.00" width="8.36" height="8.30" fill="#414487"/><rect x="477.31" y="38.00" width="8.36" height="8.30" fill="#355f8d"/><rect x="485.38" y="38.00" width="8.36" height="8.30" fill="#414487"/><rect x="493.44" y="38.00" width="18.36" height="8.30" fill="#2a788e"/><rect x="362.50" y="46.00" width="18.36" height="8.30" fill="#3b528a"/><rect x="380.56" y="46.00" width="8.36" height="8.30" fill="#355f8d"/><rect x="388.62" y="46.00" width="8.36" height="8.30" fill="#306c8e"/><rect x="396.69" y="46.00" width="8.36" height="8.30" fill="#32658d"/><rect x="404.75" y="46.00" width="8.36" height="8.30" fill="#355f8d"/><rect x="412.81" y="46.00" width="8.36" height="8.30" fill="#355f8d"/><rect x="420.88" y="46.00" width="8.36" height="8.30" fill="#3e4b88"/><rect x="428.94" y="46.00" width="8.36" height="8.30" fill="#3b528a"/><rect x="437.00" y="46.00" width="8.36" height="8.30" fill="#414487"/><rect x="445.06" y="46.00" width="8.36" height="8.30" fill="#355f8d"/><rect x="453.12" y="46.00" width="8.36" height="8.30" fill="#306c8e"/><rect x="461.19" y="46.00" width="8.36" height="8.30" fill="#414487"/><rect x="469.25" y="46.00" width="8.36" height="8.30" fill="#44347e"/><rect x="477.31" y="46.00" width="8.36" height="8.30" fill="#306c8e"/><rect x="485.38" y="46.00" width="8.36" height="8.30" fill="#355f8d"/><rect x="493.44" y="46.00" width="18.36" height="8.30" fill="#21918c"/><rect x="362.50" y="54.00" width="18.36" height="8.30" fill="#38588c"/><rect x="380.56" y="54.00" width="8.36" height="8.30" fill="#3b528a"/><rect x="388.62" y="54.00" width="8.36" height="8.30" fill="#355f8d"/><rect x="396.69" y="54.00" width="8.36" height="8.30" fill="#306c8e"/><rect x="404.75" y="54.00" width="8.36" height="8.30" fill="#32658d"/><rect x="412.81" y="54.00" width="8.36" height="8.30" fill="#355f8d"/><rect x="420.88" y="54.00" width="8.36" height="8.30" fill="#414487"/><rect x="428.94" y="54.00" width="8.36" height="8.30" fill="#414487"/><rect x="437.00" y="54.00" width="8.36" height="8.30" fill="#482475"/><rect x="445.06" y="54.00" width="8.36" height="8.30" fill="#44347e"/><rect x="453.12" y="54.00" width="8.36" height="8.30" fill="#2a788e"/><rect x="461.19" y="54.00" width="8.36" height="8.30" fill="#355f8d"/><rect x="469.25" y="54.00" width="8.36" height="8.30" fill="#461264"/><rect x="477.31" y="54.00" width="8.36" height="8.30" fill="#44347e"/><rect x="485.38" y="54.00" width="8.36" height="8.30" fill="#2a788e"/><rect x="493.44" y="54.00" width="18.36" height="8.30" fill="#21918c"/><rect x="362.50" y="62.00" width="18.36" height="8.30" fill="#355f8d"/><rect x="380.56" y="62.00" width="8.36" height="8.30" fill="#38588c"/><rect x="388.62" y="62.00" width="8.36" height="8.30" fill="#3b528a"/><rect x="396.69" y="62.00" width="8.36" height="8.30" fill="#355f8d"/><rect x="404.75" y="62.00" width="8.36" height="8.30" fill="#306c8e"/><rect x="412.81" y="62.00" width="8.36" height="8.30" fill="#414487"/><rect x="420.88" y="62.00" width="8.36" height="8.30" fill="#44347e"/><rect x="428.94" y="62.00" width="8.36" height="8.30" fill="#414487"/><rect x="437.00" y="62.00" width="8.36" height="8.30" fill="#355f8d"/><rect x="445.06" y="62.00" width="8.36" height="8.30" fill="#44347e"/><rect x="453.12" y="62.00" width="8.36" height="8.30" fill="#26848d"/><rect x="461.19" y="62.00" width="8.36" height="8.30" fill="#414487"/><rect x="469.25" y="62.00" width="8.36" height="8.30" fill="#482475"/><rect x="477.31" y="62.00" width="8.36" height="8.30" fill="#355f8d"/><rect x="485.38" y="62.00" width="8.36" height="8.30" fill="#229c88"/><rect x="493.44" y="62.00" width="18.36" height="8.30" fill="#26848d"/><rect x="362.50" y="70.00" width="18.36" height="8.30" fill="#3b528a"/><rect x="380.56" y="70.00" width="8.36" height="8.30" fill="#355f8d"/><rect x="388.62" y="70.00" width="8.36" height="8.30" fill="#38588c"/><rect x="396.69" y="70.00" width="8.36" height="8.30" fill="#3b528a"/><rect x="404.75" y="70.00" width="8.36" height="8.30" fill="#414487"/><rect x="412.81" y="70.00" width="8.36" height="8.30" fill="#414487"/><rect x="420.88" y="70.00" width="8.36" height="8.30" fill="#44347e"/><rect x="428.94" y="70.00" width="8.36" height="8.30" fill="#3b528a"/><rect x="437.00" y="70.00" width="8.36" height="8.30" fill="#21918c"/><rect x="445.06" y="70.00" width="8.36" height="8.30" fill="#26848d"/><rect x="453.12" y="70.00" width="8.36" height="8.30" fill="#21918c"/><rect x="461.19" y="70.00" width="8.36" height="8.30" fill="#26848d"/><rect x="469.25" y="70.00" width="8.36" height="8.30" fill="#355f8d"/><rect x="477.31" y="70.00" width="8.36" height="8.30" fill="#26848d"/><rect x="485.38" y="70.00" width="8.36" height="8.30" fill="#26848d"/><rect x="493.44" y="70.00" width="18.36" height="8.30" fill="#3b528a"/><rect x="362.50" y="78.00" width="18.36" height="8.30" fill="#414487"/><rect x="380.56" y="78.00" width="8.36" height="8.30" fill="#3b528a"/><rect x="388.62" y="78.00" width="8.36" height="8.30" fill="#355f8d"/><rect x="396.69" y="78.00" width="8.36" height="8.30" fill="#355f8d"/><rect x="404.75" y="78.00" width="8.36" height="8.30" fill="#355f8d"/><rect x="412.81" y="78.00" width="8.36" height="8.30" fill="#44347e"/><rect x="420.88" y="78.00" width="8.36" height="8.30" fill="#3b528a"/><rect x="428.94" y="78.00" width="8.36" height="8.30" fill="#355f8d"/><rect x="437.00" y="78.00" width="8.36" height="8.30" fill="#26848d"/><rect x="445.06" y="78.00" width="8.36" height="8.30" fill="#26848d"/><rect x="453.12" y="78.00" width="8.36" height="8.30" fill="#26848d"/><rect x="461.19" y="78.00" width="8.36" height="8.30" fill="#26848d"/><rect x="469.25" y="78.00" width="8.36" height="8.30" fill="#26848d"/><rect x="477.31" y="78.00" width="8.36" height="8.30" fill="#26848d"/><rect x="485.38" y="78.00" width="8.36" height="8.30" fill="#2a788e"/><rect x="493.44" y="78.00" width="18.36" height="8.30" fill="#414487"/><rect x="362.50" y="86.00" width="18.36" height="8.30" fill="#433c82"/><rect x="380.56" y="86.00" width="8.36" height="8.30" fill="#414487"/><rect x="388.62" y="86.00" width="8.36" height="8.30" fill="#306c8e"/><rect x="396.69" y="86.00" width="8.36" height="8.30" fill="#26848d"/><rect x="404.75" y="86.00" width="8.36" height="8.30" fill="#22a884"/><rect x="412.81" y="86.00" width="8.36" height="8.30" fill="#2a788e"/><rect x="420.88" y="86.00" width="8.36" height="8.30" fill="#2a788e"/><rect x="428.94" y="86.00" width="8.36" height="8.30" fill="#229c88"/><rect x="437.00" y="86.00" width="8.36" height="8.30" fill="#229c88"/><rect x="445.06" y="86.00" width="8.36" height="8.30" fill="#33b47a"/><rect x="453.12" y="86.00" width="8.36" height="8.30" fill="#22a884"/><rect x="461.19" y="86.00" width="8.36" height="8.30" fill="#22a884"/><rect x="469.25" y="86.00" width="8.36" height="8.30" fill="#229c88"/><rect x="477.31" y="86.00" width="8.36" height="8.30" fill="#26848d"/><rect x="485.38" y="86.00" width="8.36" height="8.30" fill="#2a788e"/><rect x="493.44" y="86.00" width="18.36" height="8.30" fill="#355f8d"/><rect x="362.50" y="94.00" width="18.36" height="8.30" fill="#44347e"/><rect x="380.56" y="94.00" width="8.36" height="8.30" fill="#355f8d"/><rect x="388.62" y="94.00" width="8.36" height="8.30" fill="#306c8e"/><rect x="396.69" y="94.00" width="8.36" height="8.30" fill="#3b528a"/><rect x="404.75" y="94.00" width="8.36" height="8.30" fill="#414487"/><rect x="412.81" y="94.00" width="8.36" height="8.30" fill="#306c8e"/><rect x="420.88" y="94.00" width="8.36" height="8.30" fill="#229c88"/><rect x="428.94" y="94.00" width="8.36" height="8.30" fill="#22a884"/><rect x="437.00" y="94.00" width="8.36" height="8.30" fill="#26848d"/><rect x="445.06" y="94.00" width="8.36" height="8.30" fill="#2a788e"/><rect x="453.12" y="94.00" width="8.36" height="8.30" fill="#44347e"/><rect x="461.19" y="94.00" width="8.36" height="8.30" fill="#44347e"/><rect x="469.25" y="94.00" width="8.36" height="8.30" fill="#355f8d"/><rect x="477.31" y="94.00" width="8.36" height="8.30" fill="#26848d"/><rect x="485.38" y="94.00" width="8.36" height="8.30" fill="#306c8e"/><rect x="493.44" y="94.00" width="18.36" height="8.30" fill="#21918c"/><rect x="362.50" y="102.00" width="18.36" height="8.30" fill="#44347e"/><rect x="380.56" y="102.00" width="8.36" height="8.30" fill="#482475"/><rect x="388.62" y="102.00" width="8.36" height="8.30" fill="#306c8e"/><rect x="396.69" y="102.00" width="8.36" height="8.30" fill="#355f8d"/><rect x="404.75" y="102.00" width="8.36" height="8.30" fill="#22a884"/><rect x="412.81" y="102.00" width="8.36" height="8.30" fill="#21918c"/><rect x="420.88" y="102.00" width="8.36" height="8.30" fill="#414487"/><rect x="428.94" y="102.00" width="8.36" height="8.30" fill="#355f8d"/><rect x="437.00" y="102.00" width="8.36" height="8.30" fill="#414487"/><rect x="445.06" y="102.00" width="8.36" height="8.30" fill="#306c8e"/><rect x="453.12" y="102.00" width="8.36" height="8.30" fill="#26848d"/><rect x="461.19" y="102.00" width="8.36" height="8.30" fill="#229c88"/><rect x="469.25" y="102.00" width="8.36" height="8.30" fill="#306c8e"/><rect x="477.31" y="102.00" width="8.36" height="8.30" fill="#3b528a"/><rect x="485.38" y="102.00" width="8.36" height="8.30" fill="#414487"/><rect x="493.44" y="102.00" width="18.36" height="8.30" fill="#355f8d"/><rect x="362.50" y="110.00" width="18.36" height="8.30" fill="#414487"/><rect x="380.56" y="110.00" width="8.36" height="8.30" fill="#44347e"/><rect x="388.62" y="110.00" width="8.36" height="8.30" fill="#26848d"/><rect x="396.69" y="110.00" width="8.36" height="8.30" fill="#306c8e"/><rect x="404.75" y="110.00" width="8.36" height="8.30" fill="#355f8d"/><rect x="412.81" y="110.00" width="8.36" height="8.30" fill="#306c8e"/><rect x="420.88" y="110.00" width="8.36" height="8.30" fill="#355f8d"/><rect x="428.94" y="110.00" width="8.36" height="8.30" fill="#26848d"/><rect x="437.00" y="110.00" width="8.36" height="8.30" fill="#414487"/><rect x="445.06" y="110.00" width="8.36" height="8.30" fill="#355f8d"/><rect x="453.12" y="110.00" width="8.36" height="8.30" fill="#229c88"/><rect x="461.19" y="110.00" width="8.36" height="8.30" fill="#44bf70"/><rect x="469.25" y="110.00" width="8.36" height="8.30" fill="#2a788e"/><rect x="477.31" y="110.00" width="8.36" height="8.30" fill="#44347e"/><rect x="485.38" y="110.00" width="8.36" height="8.30" fill="#414487"/><rect x="493.44" y="110.00" width="18.36" height="8.30" fill="#3b528a"/><rect x="362.50" y="118.00" width="18.36" height="8.30" fill="#414487"/><rect x="380.56" y="118.00" width="8.36" height="8.30" fill="#2a788e"/><rect x="388.62" y="118.00" width="8.36" height="8.30" fill="#44347e"/><rect x="396.69" y="118.00" width="8.36" height="8.30" fill="#482475"/><rect x="404.75" y="118.00" width="8.36" height="8.30" fill="#44347e"/><rect x="412.81" y="118.00" width="8.36" height="8.30" fill="#355f8d"/><rect x="420.88" y="118.00" width="8.36" height="8.30" fill="#26848d"/><rect x="428.94" y="118.00" width="8.36" height="8.30" fill="#355f8d"/><rect x="437.00" y="118.00" width="8.36" height="8.30" fill="#355f8d"/><rect x="445.06" y="118.00" width="8.36" height="8.30" fill="#44347e"/><rect x="453.12" y="118.00" width="8.36" height="8.30" fill="#3b528a"/><rect x="461.19" y="118.00" width="8.36" height="8.30" fill="#414487"/><rect x="469.25" y="118.00" width="8.36" height="8.30" fill="#26848d"/><rect x="477.31" y="118.00" width="8.36" height="8.30" fill="#414487"/><rect x="485.38" y="118.00" width="8.36" height="8.30" fill="#414487"/><rect x="493.44" y="118.00" width="18.36" height="8.30" fill="#414487"/><rect x="362.50" y="126.00" width="18.36" height="8.30" fill="#414487"/><rect x="380.56" y="126.00" width="8.36" height="8.30" fill="#306c8e"/><rect x="388.62" y="126.00" width="8.36" height="8.30" fill="#414487"/><rect x="396.69" y="126.00" width="8.36" height="8.30" fill="#482475"/><rect x="404.75" y="126.00" width="8.36" height="8.30" fill="#44347e"/><rect x="412.81" y="126.00" width="8.36" height="8.30" fill="#3b528a"/><rect x="420.88" y="126.00" width="8.36" height="8.30" fill="#355f8d"/><rect x="428.94" y="126.00" width="8.36" height="8.30" fill="#44347e"/><rect x="437.00" y="126.00" width="8.36" height="8.30" fill="#3b528a"/><rect x="445.06" y="126.00" width="8.36" height="8.30" fill="#482475"/><rect x="453.12" y="126.00" width="8.36" height="8.30" fill="#482475"/><rect x="461.19" y="126.00" width="8.36" height="8.30" fill="#44347e"/><rect x="469.25" y="126.00" width="8.36" height="8.30" fill="#26848d"/><rect x="477.31" y="126.00" width="8.36" height="8.30" fill="#355f8d"/><rect x="485.38" y="126.00" width="8.36" height="8.30" fill="#414487"/><rect x="493.44" y="126.00" width="18.36" height="8.30" fill="#414487"/><rect x="362.50" y="134.00" width="18.36" height="8.30" fill="#3b528a"/><rect x="380.56" y="134.00" width="8.36" height="8.30" fill="#3b528a"/><rect x="388.62" y="134.00" width="8.36" height="8.30" fill="#3b528a"/><rect x="396.69" y="134.00" width="8.36" height="8.30" fill="#355f8d"/><rect x="404.75" y="134.00" width="8.36" height="8.30" fill="#414487"/><rect x="412.81" y="134.00" width="8.36" height="8.30" fill="#414487"/><rect x="420.88" y="134.00" width="8.36" height="8.30" fill="#414487"/><rect x="428.94" y="134.00" width="8.36" height="8.30" fill="#44347e"/><rect x="437.00" y="134.00" width="8.36" height="8.30" fill="#414487"/><rect x="445.06" y="134.00" width="8.36" height="8.30" fill="#482475"/><rect x="453.12" y="134.00" width="8.36" height="8.30" fill="#482475"/><rect x="461.19" y="134.00" width="8.36" height="8.30" fill="#414487"/><rect x="469.25" y="134.00" width="8.36" height="8.30" fill="#21918c"/><rect x="477.31" y="134.00" width="8.36" height="8.30" fill="#414487"/><rect x="485.38" y="134.00" width="8.36" height="8.30" fill="#414487"/><rect x="493.44" y="134.00" width="18.36" height="8.30" fill="#414487"/><rect x="362.50" y="142.00" width="18.36" height="8.30" fill="#414487"/><rect x="380.56" y="142.00" width="8.36" height="8.30" fill="#355f8d"/><rect x="388.62" y="142.00" width="8.36" height="8.30" fill="#44347e"/><rect x="396.69" y="142.00" width="8.36" height="8.30" fill="#414487"/><rect x="404.75" y="142.00" width="8.36" height="8.30" fill="#355f8d"/><rect x="412.81" y="142.00" width="8.36" height="8.30" fill="#414487"/><rect x="420.88" y="142.00" width="8.36" height="8.30" fill="#3b528a"/><rect x="428.94" y="142.00" width="8.36" height="8.30" fill="#3b528a"/><rect x="437.00" y="142.00" width="8.36" height="8.30" fill="#3b528a"/><rect x="445.06" y="142.00" width="8.36" height="8.30" fill="#414487"/><rect x="453.12" y="142.00" width="8.36" height="8.30" fill="#355f8d"/><rect x="461.19" y="142.00" width="8.36" height="8.30" fill="#306c8e"/><rect x="469.25" y="142.00" width="8.36" height="8.30" fill="#2a788e"/><rect x="477.31" y="142.00" width="8.36" height="8.30" fill="#414487"/><rect x="485.38" y="142.00" width="8.36" height="8.30" fill="#414487"/><rect x="493.44" y="142.00" width="18.36" height="8.30" fill="#3b528a"/><rect x="362.50" y="150.00" width="18.36" height="18.30" fill="#3b528a"/><rect x="380.56" y="150.00" width="8.36" height="18.30" fill="#3b528a"/><rect x="388.62" y="150.00" width="8.36" height="18.30" fill="#414487"/><rect x="396.69" y="150.00" width="8.36" height="18.30" fill="#414487"/><rect x="404.75" y="150.00" width="8.36" height="18.30" fill="#3b528a"/><rect x="412.81" y="150.00" width="8.36" height="18.30" fill="#414487"/><rect x="420.88" y="150.00" width="8.36" height="18.30" fill="#306c8e"/><rect x="428.94" y="150.00" width="8.36" height="18.30" fill="#306c8e"/><rect x="437.00" y="150.00" width="8.36" height="18.30" fill="#355f8d"/><rect x="445.06" y="150.00" width="8.36" height="18.30" fill="#26848d"/><rect x="453.12" y="150.00" width="8.36" height="18.30" fill="#33b47a"/><rect x="461.19" y="150.00" width="8.36" height="18.30" fill="#22a884"/><rect x="469.25" y="150.00" width="8.36" height="18.30" fill="#355f8d"/><rect x="477.31" y="150.00" width="8.36" height="18.30" fill="#3b528a"/><rect x="485.38" y="150.00" width="8.36" height="18.30" fill="#3b528a"/><rect x="493.44" y="150.00" width="18.36" height="18.30" fill="#355f8d"/></g>
<g filter="url(#fp3)">
<path d="M404.5 109.3 L414.1 102.1 L422.1 95.7 L431.8 90.9 L441.4 88.5 L451.0 85.3 L462.3 83.7 L476.7 83.7 L489.6 84.5" fill="none" stroke="#26848d" stroke-width="7.0" stroke-linecap="round" stroke-linejoin="round"/>
<path d="M404.5 109.3 L414.1 102.1 L422.1 95.7 L431.8 90.9 L441.4 88.5 L451.0 85.3 L462.3 83.7 L476.7 83.7 L489.6 84.5" fill="none" stroke="#5ac664" stroke-width="2.4" stroke-linecap="round" stroke-linejoin="round"/>
<path d="M415.0 67.0 L419.0 76.0 L422.0 84.0" fill="none" stroke="#471d6e" stroke-width="7.0" stroke-linecap="round" stroke-linejoin="round"/>
<path d="M427.0 68.0 L430.0 75.0 L432.0 82.0" fill="none" stroke="#482475" stroke-width="5.0" stroke-linecap="round" stroke-linejoin="round"/>
<path d="M440.0 58.0 L445.0 55.5 L450.0 58.0 L451.0 64.0" fill="none" stroke="#471d6e" stroke-width="6.0" stroke-linecap="round" stroke-linejoin="round"/>
<path d="M466.0 54.0 L468.0 63.0 L471.0 70.0 L475.0 71.0 L477.0 63.0 L476.0 56.0" fill="none" stroke="#471d6e" stroke-width="6.5" stroke-linecap="round" stroke-linejoin="round"/>
<path d="M466.0 41.5 L480.0 40.0" fill="none" stroke="#472a79" stroke-width="4.0" stroke-linecap="round" stroke-linejoin="round"/>
<path d="M496.0 77.0 L498.0 85.0" fill="none" stroke="#482475" stroke-width="7.0" stroke-linecap="round" stroke-linejoin="round"/>
<ellipse cx="440.0" cy="71.0" rx="4.0" ry="4.5" fill="#229c88" transform="rotate(0.0 440.0 71.0)"/>
<path d="M457.0 59.0 L458.0 67.0 L459.0 74.0" fill="none" stroke="#229c88" stroke-width="4.0" stroke-linecap="round" stroke-linejoin="round"/>
<ellipse cx="485.5" cy="64.0" rx="3.0" ry="5.0" fill="#29ad80" transform="rotate(0.0 485.5 64.0)"/>
<path d="M495.0 46.0 L497.0 60.0 L498.0 72.0" fill="none" stroke="#229c88" stroke-width="5.0" stroke-linecap="round" stroke-linejoin="round"/>
<path d="M438.0 91.5 L452.0 91.0 L467.0 91.0" fill="none" stroke="#22a884" stroke-width="2.0" stroke-linecap="round" stroke-linejoin="round"/>
<ellipse cx="459.0" cy="96.5" rx="10.0" ry="2.8" fill="#471d6e" transform="rotate(0.0 459.0 96.5)"/>
<ellipse cx="483.0" cy="131.5" rx="2.2" ry="0.9" fill="#cae126" transform="rotate(0.0 483.0 131.5)"/>
<ellipse cx="440.3" cy="133.0" rx="0.8" ry="1.6" fill="#44bf70" transform="rotate(0.0 440.3 133.0)"/>
<ellipse cx="467.5" cy="35.5" rx="2.2" ry="1.2" fill="#7ad151" transform="rotate(-25.0 467.5 35.5)"/>
<ellipse cx="459.0" cy="39.0" rx="1.8" ry="1.0" fill="#5fc860" transform="rotate(-25.0 459.0 39.0)"/>
<ellipse cx="449.0" cy="43.0" rx="1.5" ry="1.0" fill="#44bf70" transform="rotate(-25.0 449.0 43.0)"/>
<ellipse cx="441.0" cy="47.0" rx="2.0" ry="1.1" fill="#7ad151" transform="rotate(-30.0 441.0 47.0)"/>
<ellipse cx="436.5" cy="49.0" rx="1.3" ry="0.9" fill="#44bf70" transform="rotate(-30.0 436.5 49.0)"/>
<ellipse cx="428.5" cy="54.0" rx="1.3" ry="0.9" fill="#5fc860" transform="rotate(-30.0 428.5 54.0)"/>
<ellipse cx="419.5" cy="59.0" rx="1.2" ry="0.9" fill="#22a884" transform="rotate(-30.0 419.5 59.0)"/>
<ellipse cx="406.5" cy="68.5" rx="1.8" ry="1.0" fill="#33b47a" transform="rotate(-40.0 406.5 68.5)"/>
<ellipse cx="399.0" cy="75.0" rx="1.2" ry="1.0" fill="#229c88" transform="rotate(-40.0 399.0 75.0)"/>
<ellipse cx="392.0" cy="83.0" rx="1.2" ry="1.2" fill="#229c88" transform="rotate(0.0 392.0 83.0)"/>
<ellipse cx="475.5" cy="33.0" rx="1.5" ry="0.9" fill="#22a884" transform="rotate(-20.0 475.5 33.0)"/>
<ellipse cx="485.0" cy="30.5" rx="2.0" ry="0.8" fill="#22a884" transform="rotate(0.0 485.0 30.5)"/>
<ellipse cx="395.0" cy="137.5" rx="18.0" ry="0.5" fill="#306c8e" transform="rotate(0.0 395.0 137.5)"/>
<path d="M455.0 106.0 L463.0 110.0 L469.0 116.0 L472.0 125.0 L473.5 134.0 L474.0 142.0 L470.0 150.0 L463.0 155.0" fill="none" stroke="#22a386" stroke-width="4.0" stroke-linecap="round" stroke-linejoin="round"/>
<ellipse cx="463.0" cy="111.5" rx="6.0" ry="3.5" fill="#6fcd57" transform="rotate(35.0 463.0 111.5)"/>
</g>
<path d="M482.0 29.5 C480.0 30.0 473.6 31.5 470.0 32.7 C466.4 33.9 463.8 35.6 460.7 36.8 C457.6 38.0 454.7 38.4 451.4 39.7 C448.1 41.1 443.8 43.6 440.9 44.9 C438.0 46.2 436.0 46.2 433.9 47.3 C431.8 48.4 430.3 49.8 428.0 51.4 C425.7 53.0 422.2 55.0 419.9 56.6 C417.6 58.2 416.1 59.8 414.0 61.3 C411.9 62.8 408.9 64.0 407.0 65.4 C405.1 66.9 404.0 68.4 402.3 70.0 C400.6 71.6 399.0 72.7 396.8 75.2 C394.6 77.7 391.3 81.6 389.1 84.8 C386.9 88.0 385.0 91.1 383.4 94.3 C381.8 97.5 380.7 100.6 379.6 103.8 C378.5 107.0 377.4 109.8 376.8 113.3 C376.2 116.8 376.0 121.0 375.8 124.8 C375.6 128.6 375.6 131.8 375.8 136.2 C376.0 140.6 376.5 147.4 376.8 151.4 C377.1 155.4 377.6 158.6 377.7 160.0 L365.0 160.0 L365.0 25.0Z" fill="#440154" stroke="#472a79" stroke-width="3.0" stroke-linejoin="round" filter="url(#edge)"/>
</g>
<rect x="372.50" y="30.00" width="129.00" height="128.00" fill="none" stroke="#000" stroke-width="1.4"/>
<g clip-path="url(#cp4)">
<rect x="559.00" y="30.00" width="124.50" height="125.00" fill="#440154"/>
<g filter="url(#bp4)"><rect x="549.00" y="20.00" width="20.68" height="20.72" fill="#414487"/><rect x="569.38" y="20.00" width="10.68" height="20.72" fill="#3b528a"/><rect x="579.75" y="20.00" width="10.68" height="20.72" fill="#355f8d"/><rect x="590.12" y="20.00" width="10.68" height="20.72" fill="#355f8d"/><rect x="600.50" y="20.00" width="10.68" height="20.72" fill="#355f8d"/><rect x="610.88" y="20.00" width="10.68" height="20.72" fill="#414487"/><rect x="621.25" y="20.00" width="10.68" height="20.72" fill="#414487"/><rect x="631.62" y="20.00" width="10.68" height="20.72" fill="#3b528a"/><rect x="642.00" y="20.00" width="10.68" height="20.72" fill="#3b528a"/><rect x="652.38" y="20.00" width="10.68" height="20.72" fill="#355f8d"/><rect x="662.75" y="20.00" width="10.68" height="20.72" fill="#3b528a"/><rect x="673.12" y="20.00" width="20.68" height="20.72" fill="#414487"/><rect x="549.00" y="40.42" width="20.68" height="10.72" fill="#3e4b88"/><rect x="569.38" y="40.42" width="10.68" height="10.72" fill="#414487"/><rect x="579.75" y="40.42" width="10.68" height="10.72" fill="#3b528a"/><rect x="590.12" y="40.42" width="10.68" height="10.72" fill="#355f8d"/><rect x="600.50" y="40.42" width="10.68" height="10.72" fill="#355f8d"/><rect x="610.88" y="40.42" width="10.68" height="10.72" fill="#414487"/><rect x="621.25" y="40.42" width="10.68" height="10.72" fill="#414487"/><rect x="631.62" y="40.42" width="10.68" height="10.72" fill="#3b528a"/><rect x="642.00" y="40.42" width="10.68" height="10.72" fill="#414487"/><rect x="652.38" y="40.42" width="10.68" height="10.72" fill="#414487"/><rect x="662.75" y="40.42" width="10.68" height="10.72" fill="#414487"/><rect x="673.12" y="40.42" width="20.68" height="10.72" fill="#414487"/><rect x="549.00" y="50.83" width="20.68" height="10.72" fill="#3b528a"/><rect x="569.38" y="50.83" width="10.68" height="10.72" fill="#3e4b88"/><rect x="579.75" y="50.83" width="10.68" height="10.72" fill="#414487"/><rect x="590.12" y="50.83" width="10.68" height="10.72" fill="#3b528a"/><rect x="600.50" y="50.83" width="10.68" height="10.72" fill="#355f8d"/><rect x="610.88" y="50.83" width="10.68" height="10.72" fill="#414487"/><rect x="621.25" y="50.83" width="10.68" height="10.72" fill="#44347e"/><rect x="631.62" y="50.83" width="10.68" height="10.72" fill="#414487"/><rect x="642.00" y="50.83" width="10.68" height="10.72" fill="#44347e"/><rect x="652.38" y="50.83" width="10.68" height="10.72" fill="#414487"/><rect x="662.75" y="50.83" width="10.68" height="10.72" fill="#44347e"/><rect x="673.12" y="50.83" width="20.68" height="10.72" fill="#44347e"/><rect x="549.00" y="61.25" width="20.68" height="10.72" fill="#3b528a"/><rect x="569.38" y="61.25" width="10.68" height="10.72" fill="#3b528a"/><rect x="579.75" y="61.25" width="10.68" height="10.72" fill="#3e4b88"/><rect x="590.12" y="61.25" width="10.68" height="10.72" fill="#414487"/><rect x="600.50" y="61.25" width="10.68" height="10.72" fill="#306c8e"/><rect x="610.88" y="61.25" width="10.68" height="10.72" fill="#355f8d"/><rect x="621.25" y="61.25" width="10.68" height="10.72" fill="#44347e"/><rect x="631.62" y="61.25" width="10.68" height="10.72" fill="#44347e"/><rect x="642.00" y="61.25" width="10.68" height="10.72" fill="#414487"/><rect x="652.38" y="61.25" width="10.68" height="10.72" fill="#414487"/><rect x="662.75" y="61.25" width="10.68" height="10.72" fill="#44347e"/><rect x="673.12" y="61.25" width="20.68" height="10.72" fill="#44347e"/><rect x="549.00" y="71.67" width="20.68" height="10.72" fill="#3b528a"/><rect x="569.38" y="71.67" width="10.68" height="10.72" fill="#3b528a"/><rect x="579.75" y="71.67" width="10.68" height="10.72" fill="#3b528a"/><rect x="590.12" y="71.67" width="10.68" height="10.72" fill="#414487"/><rect x="600.50" y="71.67" width="10.68" height="10.72" fill="#355f8d"/><rect x="610.88" y="71.67" width="10.68" height="10.72" fill="#414487"/><rect x="621.25" y="71.67" width="10.68" height="10.72" fill="#414487"/><rect x="631.62" y="71.67" width="10.68" height="10.72" fill="#44347e"/><rect x="642.00" y="71.67" width="10.68" height="10.72" fill="#414487"/><rect x="652.38" y="71.67" width="10.68" height="10.72" fill="#414487"/><rect x="662.75" y="71.67" width="10.68" height="10.72" fill="#414487"/><rect x="673.12" y="71.67" width="20.68" height="10.72" fill="#355f8d"/><rect x="549.00" y="82.08" width="20.68" height="10.72" fill="#3e4b88"/><rect x="569.38" y="82.08" width="10.68" height="10.72" fill="#3b528a"/><rect x="579.75" y="82.08" width="10.68" height="10.72" fill="#3b528a"/><rect x="590.12" y="82.08" width="10.68" height="10.72" fill="#414487"/><rect x="600.50" y="82.08" width="10.68" height="10.72" fill="#414487"/><rect x="610.88" y="82.08" width="10.68" height="10.72" fill="#414487"/><rect x="621.25" y="82.08" width="10.68" height="10.72" fill="#414487"/><rect x="631.62" y="82.08" width="10.68" height="10.72" fill="#355f8d"/><rect x="642.00" y="82.08" width="10.68" height="10.72" fill="#355f8d"/><rect x="652.38" y="82.08" width="10.68" height="10.72" fill="#414487"/><rect x="662.75" y="82.08" width="10.68" height="10.72" fill="#414487"/><rect x="673.12" y="82.08" width="20.68" height="10.72" fill="#414487"/><rect x="549.00" y="92.50" width="20.68" height="10.72" fill="#414487"/><rect x="569.38" y="92.50" width="10.68" height="10.72" fill="#3b528a"/><rect x="579.75" y="92.50" width="10.68" height="10.72" fill="#414487"/><rect x="590.12" y="92.50" width="10.68" height="10.72" fill="#414487"/><rect x="600.50" y="92.50" width="10.68" height="10.72" fill="#414487"/><rect x="610.88" y="92.50" width="10.68" height="10.72" fill="#355f8d"/><rect x="621.25" y="92.50" width="10.68" height="10.72" fill="#306c8e"/><rect x="631.62" y="92.50" width="10.68" height="10.72" fill="#306c8e"/><rect x="642.00" y="92.50" width="10.68" height="10.72" fill="#306c8e"/><rect x="652.38" y="92.50" width="10.68" height="10.72" fill="#414487"/><rect x="662.75" y="92.50" width="10.68" height="10.72" fill="#44347e"/><rect x="673.12" y="92.50" width="20.68" height="10.72" fill="#44347e"/><rect x="549.00" y="102.92" width="20.68" height="10.72" fill="#306c8e"/><rect x="569.38" y="102.92" width="10.68" height="10.72" fill="#3b528a"/><rect x="579.75" y="102.92" width="10.68" height="10.72" fill="#414487"/><rect x="590.12" y="102.92" width="10.68" height="10.72" fill="#3b528a"/><rect x="600.50" y="102.92" width="10.68" height="10.72" fill="#355f8d"/><rect x="610.88" y="102.92" width="10.68" height="10.72" fill="#3b528a"/><rect x="621.25" y="102.92" width="10.68" height="10.72" fill="#414487"/><rect x="631.62" y="102.92" width="10.68" height="10.72" fill="#414487"/><rect x="642.00" y="102.92" width="10.68" height="10.72" fill="#414487"/><rect x="652.38" y="102.92" width="10.68" height="10.72" fill="#414487"/><rect x="662.75" y="102.92" width="10.68" height="10.72" fill="#44347e"/><rect x="673.12" y="102.92" width="20.68" height="10.72" fill="#44347e"/><rect x="549.00" y="113.33" width="20.68" height="10.72" fill="#3b528a"/><rect x="569.38" y="113.33" width="10.68" height="10.72" fill="#414487"/><rect x="579.75" y="113.33" width="10.68" height="10.72" fill="#3b528a"/><rect x="590.12" y="113.33" width="10.68" height="10.72" fill="#3b528a"/><rect x="600.50" y="113.33" width="10.68" height="10.72" fill="#414487"/><rect x="610.88" y="113.33" width="10.68" height="10.72" fill="#44347e"/><rect x="621.25" y="113.33" width="10.68" height="10.72" fill="#414487"/><rect x="631.62" y="113.33" width="10.68" height="10.72" fill="#414487"/><rect x="642.00" y="113.33" width="10.68" height="10.72" fill="#414487"/><rect x="652.38" y="113.33" width="10.68" height="10.72" fill="#414487"/><rect x="662.75" y="113.33" width="10.68" height="10.72" fill="#44347e"/><rect x="673.12" y="113.33" width="20.68" height="10.72" fill="#44347e"/><rect x="549.00" y="123.75" width="20.68" height="10.72" fill="#482475"/><rect x="569.38" y="123.75" width="10.68" height="10.72" fill="#414487"/><rect x="579.75" y="123.75" width="10.68" height="10.72" fill="#3b528a"/><rect x="590.12" y="123.75" width="10.68" height="10.72" fill="#414487"/><rect x="600.50" y="123.75" width="10.68" height="10.72" fill="#414487"/><rect x="610.88" y="123.75" width="10.68" height="10.72" fill="#414487"/><rect x="621.25" y="123.75" width="10.68" height="10.72" fill="#414487"/><rect x="631.62" y="123.75" width="10.68" height="10.72" fill="#355f8d"/><rect x="642.00" y="123.75" width="10.68" height="10.72" fill="#355f8d"/><rect x="652.38" y="123.75" width="10.68" height="10.72" fill="#482475"/><rect x="662.75" y="123.75" width="10.68" height="10.72" fill="#414487"/><rect x="673.12" y="123.75" width="20.68" height="10.72" fill="#355f8d"/><rect x="549.00" y="134.17" width="20.68" height="10.72" fill="#461264"/><rect x="569.38" y="134.17" width="10.68" height="10.72" fill="#3b528a"/><rect x="579.75" y="134.17" width="10.68" height="10.72" fill="#414487"/><rect x="590.12" y="134.17" width="10.68" height="10.72" fill="#414487"/><rect x="600.50" y="134.17" width="10.68" height="10.72" fill="#3b528a"/><rect x="610.88" y="134.17" width="10.68" height="10.72" fill="#414487"/><rect x="621.25" y="134.17" width="10.68" height="10.72" fill="#414487"/><rect x="631.62" y="134.17" width="10.68" height="10.72" fill="#355f8d"/><rect x="642.00" y="134.17" width="10.68" height="10.72" fill="#3b528a"/><rect x="652.38" y="134.17" width="10.68" height="10.72" fill="#44347e"/><rect x="662.75" y="134.17" width="10.68" height="10.72" fill="#44347e"/><rect x="673.12" y="134.17" width="20.68" height="10.72" fill="#44347e"/><rect x="549.00" y="144.58" width="20.68" height="20.72" fill="#461264"/><rect x="569.38" y="144.58" width="10.68" height="20.72" fill="#414487"/><rect x="579.75" y="144.58" width="10.68" height="20.72" fill="#414487"/><rect x="590.12" y="144.58" width="10.68" height="20.72" fill="#414487"/><rect x="600.50" y="144.58" width="10.68" height="20.72" fill="#414487"/><rect x="610.88" y="144.58" width="10.68" height="20.72" fill="#44347e"/><rect x="621.25" y="144.58" width="10.68" height="20.72" fill="#44347e"/><rect x="631.62" y="144.58" width="10.68" height="20.72" fill="#44347e"/><rect x="642.00" y="144.58" width="10.68" height="20.72" fill="#44347e"/><rect x="652.38" y="144.58" width="10.68" height="20.72" fill="#44347e"/><rect x="662.75" y="144.58" width="10.68" height="20.72" fill="#44347e"/><rect x="673.12" y="144.58" width="20.68" height="20.72" fill="#44347e"/></g>
<g filter="url(#fp4)">
<ellipse cx="640.0" cy="95.5" rx="12.0" ry="4.5" fill="#229c88" transform="rotate(5.0 640.0 95.5)"/>
<ellipse cx="643.0" cy="95.0" rx="5.0" ry="2.5" fill="#36b678" transform="rotate(5.0 643.0 95.0)"/>
<ellipse cx="606.5" cy="106.0" rx="7.5" ry="3.5" fill="#21918c" transform="rotate(-20.0 606.5 106.0)"/>
<ellipse cx="640.0" cy="130.5" rx="10.0" ry="5.0" fill="#229f87" transform="rotate(0.0 640.0 130.5)"/>
<ellipse cx="644.0" cy="129.0" rx="4.0" ry="2.5" fill="#36b678" transform="rotate(0.0 644.0 129.0)"/>
<ellipse cx="623.0" cy="130.8" rx="4.0" ry="1.5" fill="#440154" transform="rotate(0.0 623.0 130.8)"/>
<ellipse cx="659.0" cy="129.0" rx="6.0" ry="2.5" fill="#45085b" transform="rotate(0.0 659.0 129.0)"/>
<ellipse cx="674.0" cy="130.8" rx="6.0" ry="2.5" fill="#287d8e" transform="rotate(0.0 674.0 130.8)"/>
<ellipse cx="568.5" cy="107.5" rx="3.0" ry="6.0" fill="#229c88" transform="rotate(10.0 568.5 107.5)"/>
<ellipse cx="579.8" cy="141.2" rx="2.0" ry="1.8" fill="#dde326" transform="rotate(0.0 579.8 141.2)"/>
<ellipse cx="601.5" cy="63.0" rx="2.5" ry="2.0" fill="#26848d" transform="rotate(0.0 601.5 63.0)"/>
<path d="M605.0 64.0 L610.0 72.0 L613.0 80.0" fill="none" stroke="#2c738e" stroke-width="2.5" stroke-linecap="round" stroke-linejoin="round"/>
<path d="M589.0 79.0 L592.0 86.0 L595.0 92.0" fill="none" stroke="#306c8e" stroke-width="2.0" stroke-linecap="round" stroke-linejoin="round"/>
<ellipse cx="680.0" cy="80.0" rx="2.5" ry="4.0" fill="#2a788e" transform="rotate(0.0 680.0 80.0)"/>
</g>
<path d="M676.0 29.5 C674.2 30.1 669.3 32.0 665.5 32.9 C661.7 33.8 656.6 33.7 653.0 34.8 C649.4 35.9 647.0 37.9 643.6 39.5 C640.2 41.1 636.3 42.6 632.7 44.2 C629.1 45.8 625.4 47.2 621.8 48.9 C618.1 50.6 614.2 52.5 610.8 54.3 C607.4 56.1 604.3 57.8 601.4 59.8 C598.5 61.8 595.9 63.9 593.6 66.0 C591.3 68.1 589.5 70.2 587.4 72.3 C585.3 74.4 583.1 76.3 581.1 78.6 C579.1 80.9 577.2 83.3 575.4 86.0 C573.5 88.7 571.7 91.7 570.0 95.0 C568.3 98.3 566.5 102.7 565.3 106.0 C564.0 109.3 563.1 112.5 562.5 115.0 C561.9 117.5 561.8 119.3 561.6 121.1 C561.5 122.9 561.6 125.2 561.6 126.0 L562.5 127.0 L564.0 131.0 L567.8 134.6 L572.0 137.0 L577.0 138.5 L572.0 140.5 L568.6 143.3 L567.8 149.5 L567.8 160.0 L550.0 160.0 L550.0 25.0 L690.0 25.0Z" fill="#440154" stroke="#472a79" stroke-width="3.0" stroke-linejoin="round" filter="url(#edge)"/>
</g>
<rect x="559.00" y="30.00" width="124.50" height="125.00" fill="none" stroke="#000" stroke-width="1.4"/>
<g clip-path="url(#cp5)">
<rect x="1.00" y="195.00" width="125.00" height="124.00" fill="#440154"/>
<g filter="url(#bp5)"><rect x="-9.00" y="185.00" width="20.72" height="20.63" fill="#21918c"/><rect x="11.42" y="185.00" width="10.72" height="20.63" fill="#238b8c"/><rect x="21.83" y="185.00" width="10.72" height="20.63" fill="#26848d"/><rect x="32.25" y="185.00" width="10.72" height="20.63" fill="#2a788e"/><rect x="42.67" y="185.00" width="10.72" height="20.63" fill="#306c8e"/><rect x="53.08" y="185.00" width="10.72" height="20.63" fill="#306c8e"/><rect x="63.50" y="185.00" width="10.72" height="20.63" fill="#21918c"/><rect x="73.92" y="185.00" width="10.72" height="20.63" fill="#2a788e"/><rect x="84.33" y="185.00" width="10.72" height="20.63" fill="#355f8d"/><rect x="94.75" y="185.00" width="10.72" height="20.63" fill="#21918c"/><rect x="105.17" y="185.00" width="10.72" height="20.63" fill="#26848d"/><rect x="115.58" y="185.00" width="20.72" height="20.63" fill="#26848d"/><rect x="-9.00" y="205.33" width="20.72" height="10.63" fill="#21918c"/><rect x="11.42" y="205.33" width="10.72" height="10.63" fill="#21918c"/><rect x="21.83" y="205.33" width="10.72" height="10.63" fill="#238b8c"/><rect x="32.25" y="205.33" width="10.72" height="10.63" fill="#26848d"/><rect x="42.67" y="205.33" width="10.72" height="10.63" fill="#2a788e"/><rect x="53.08" y="205.33" width="10.72" height="10.63" fill="#306c8e"/><rect x="63.50" y="205.33" width="10.72" height="10.63" fill="#21918c"/><rect x="73.92" y="205.33" width="10.72" height="10.63" fill="#21918c"/><rect x="84.33" y="205.33" width="10.72" height="10.63" fill="#21918c"/><rect x="94.75" y="205.33" width="10.72" height="10.63" fill="#26848d"/><rect x="105.17" y="205.33" width="10.72" height="10.63" fill="#26848d"/><rect x="115.58" y="205.33" width="20.72" height="10.63" fill="#26848d"/><rect x="-9.00" y="215.67" width="20.72" height="10.63" fill="#21918c"/><rect x="11.42" y="215.67" width="10.72" height="10.63" fill="#21918c"/><rect x="21.83" y="215.67" width="10.72" height="10.63" fill="#21918c"/><rect x="32.25" y="215.67" width="10.72" height="10.63" fill="#238b8c"/><rect x="42.67" y="215.67" width="10.72" height="10.63" fill="#26848d"/><rect x="53.08" y="215.67" width="10.72" height="10.63" fill="#229c88"/><rect x="63.50" y="215.67" width="10.72" height="10.63" fill="#229c88"/><rect x="73.92" y="215.67" width="10.72" height="10.63" fill="#21918c"/><rect x="84.33" y="215.67" width="10.72" height="10.63" fill="#26848d"/><rect x="94.75" y="215.67" width="10.72" height="10.63" fill="#26848d"/><rect x="105.17" y="215.67" width="10.72" height="10.63" fill="#2a788e"/><rect x="115.58" y="215.67" width="20.72" height="10.63" fill="#306c8e"/><rect x="-9.00" y="226.00" width="20.72" height="10.63" fill="#21978a"/><rect x="11.42" y="226.00" width="10.72" height="10.63" fill="#21918c"/><rect x="21.83" y="226.00" width="10.72" height="10.63" fill="#21918c"/><rect x="32.25" y="226.00" width="10.72" height="10.63" fill="#21918c"/><rect x="42.67" y="226.00" width="10.72" height="10.63" fill="#22a884"/><rect x="53.08" y="226.00" width="10.72" height="10.63" fill="#21918c"/><rect x="63.50" y="226.00" width="10.72" height="10.63" fill="#21918c"/><rect x="73.92" y="226.00" width="10.72" height="10.63" fill="#26848d"/><rect x="84.33" y="226.00" width="10.72" height="10.63" fill="#2a788e"/><rect x="94.75" y="226.00" width="10.72" height="10.63" fill="#2a788e"/><rect x="105.17" y="226.00" width="10.72" height="10.63" fill="#306c8e"/><rect x="115.58" y="226.00" width="20.72" height="10.63" fill="#355f8d"/><rect x="-9.00" y="236.33" width="20.72" height="10.63" fill="#229c88"/><rect x="11.42" y="236.33" width="10.72" height="10.63" fill="#21978a"/><rect x="21.83" y="236.33" width="10.72" height="10.63" fill="#21918c"/><rect x="32.25" y="236.33" width="10.72" height="10.63" fill="#22a884"/><rect x="42.67" y="236.33" width="10.72" height="10.63" fill="#21918c"/><rect x="53.08" y="236.33" width="10.72" height="10.63" fill="#21918c"/><rect x="63.50" y="236.33" width="10.72" height="10.63" fill="#26848d"/><rect x="73.92" y="236.33" width="10.72" height="10.63" fill="#26848d"/><rect x="84.33" y="236.33" width="10.72" height="10.63" fill="#2a788e"/><rect x="94.75" y="236.33" width="10.72" height="10.63" fill="#2a788e"/><rect x="105.17" y="236.33" width="10.72" height="10.63" fill="#306c8e"/><rect x="115.58" y="236.33" width="20.72" height="10.63" fill="#306c8e"/><rect x="-9.00" y="246.67" width="20.72" height="10.63" fill="#238b8c"/><rect x="11.42" y="246.67" width="10.72" height="10.63" fill="#229c88"/><rect x="21.83" y="246.67" width="10.72" height="10.63" fill="#229c88"/><rect x="32.25" y="246.67" width="10.72" height="10.63" fill="#21918c"/><rect x="42.67" y="246.67" width="10.72" height="10.63" fill="#26848d"/><rect x="53.08" y="246.67" width="10.72" height="10.63" fill="#26848d"/><rect x="63.50" y="246.67" width="10.72" height="10.63" fill="#26848d"/><rect x="73.92" y="246.67" width="10.72" height="10.63" fill="#26848d"/><rect x="84.33" y="246.67" width="10.72" height="10.63" fill="#2a788e"/><rect x="94.75" y="246.67" width="10.72" height="10.63" fill="#306c8e"/><rect x="105.17" y="246.67" width="10.72" height="10.63" fill="#306c8e"/><rect x="115.58" y="246.67" width="20.72" height="10.63" fill="#355f8d"/><rect x="-9.00" y="257.00" width="20.72" height="10.63" fill="#2a788e"/><rect x="11.42" y="257.00" width="10.72" height="10.63" fill="#229c88"/><rect x="21.83" y="257.00" width="10.72" height="10.63" fill="#21918c"/><rect x="32.25" y="257.00" width="10.72" height="10.63" fill="#26848d"/><rect x="42.67" y="257.00" width="10.72" height="10.63" fill="#2a788e"/><rect x="53.08" y="257.00" width="10.72" height="10.63" fill="#26848d"/><rect x="63.50" y="257.00" width="10.72" height="10.63" fill="#26848d"/><rect x="73.92" y="257.00" width="10.72" height="10.63" fill="#2a788e"/><rect x="84.33" y="257.00" width="10.72" height="10.63" fill="#355f8d"/><rect x="94.75" y="257.00" width="10.72" height="10.63" fill="#306c8e"/><rect x="105.17" y="257.00" width="10.72" height="10.63" fill="#306c8e"/><rect x="115.58" y="257.00" width="20.72" height="10.63" fill="#355f8d"/><rect x="-9.00" y="267.33" width="20.72" height="10.63" fill="#229c88"/><rect x="11.42" y="267.33" width="10.72" height="10.63" fill="#33b47a"/><rect x="21.83" y="267.33" width="10.72" height="10.63" fill="#22a884"/><rect x="32.25" y="267.33" width="10.72" height="10.63" fill="#26848d"/><rect x="42.67" y="267.33" width="10.72" height="10.63" fill="#355f8d"/><rect x="53.08" y="267.33" width="10.72" height="10.63" fill="#26848d"/><rect x="63.50" y="267.33" width="10.72" height="10.63" fill="#26848d"/><rect x="73.92" y="267.33" width="10.72" height="10.63" fill="#26848d"/><rect x="84.33" y="267.33" width="10.72" height="10.63" fill="#2a788e"/><rect x="94.75" y="267.33" width="10.72" height="10.63" fill="#306c8e"/><rect x="105.17" y="267.33" width="10.72" height="10.63" fill="#306c8e"/><rect x="115.58" y="267.33" width="20.72" height="10.63" fill="#355f8d"/><rect x="-9.00" y="277.67" width="20.72" height="10.63" fill="#229c88"/><rect x="11.42" y="277.67" width="10.72" height="10.63" fill="#22a884"/><rect x="21.83" y="277.67" width="10.72" height="10.63" fill="#229c88"/><rect x="32.25" y="277.67" width="10.72" height="10.63" fill="#26848d"/><rect x="42.67" y="277.67" width="10.72" height="10.63" fill="#26848d"/><rect x="53.08" y="277.67" width="10.72" height="10.63" fill="#26848d"/><rect x="63.50" y="277.67" width="10.72" height="10.63" fill="#26848d"/><rect x="73.92" y="277.67" width="10.72" height="10.63" fill="#2a788e"/><rect x="84.33" y="277.67" width="10.72" height="10.63" fill="#2a788e"/><rect x="94.75" y="277.67" width="10.72" height="10.63" fill="#2a788e"/><rect x="105.17" y="277.67" width="10.72" height="10.63" fill="#306c8e"/><rect x="115.58" y="277.67" width="20.72" height="10.63" fill="#306c8e"/><rect x="-9.00" y="288.00" width="20.72" height="10.63" fill="#21918c"/><rect x="11.42" y="288.00" width="10.72" height="10.63" fill="#21918c"/><rect x="21.83" y="288.00" width="10.72" height="10.63" fill="#21918c"/><rect x="32.25" y="288.00" width="10.72" height="10.63" fill="#26848d"/><rect x="42.67" y="288.00" width="10.72" height="10.63" fill="#2a788e"/><rect x="53.08" y="288.00" width="10.72" height="10.63" fill="#2a788e"/><rect x="63.50" y="288.00" width="10.72" height="10.63" fill="#306c8e"/><rect x="73.92" y="288.00" width="10.72" height="10.63" fill="#3b528a"/><rect x="84.33" y="288.00" width="10.72" height="10.63" fill="#414487"/><rect x="94.75" y="288.00" width="10.72" height="10.63" fill="#355f8d"/><rect x="105.17" y="288.00" width="10.72" height="10.63" fill="#355f8d"/><rect x="115.58" y="288.00" width="20.72" height="10.63" fill="#355f8d"/><rect x="-9.00" y="298.33" width="20.72" height="10.63" fill="#482475"/><rect x="11.42" y="298.33" width="10.72" height="10.63" fill="#355f8d"/><rect x="21.83" y="298.33" width="10.72" height="10.63" fill="#2a788e"/><rect x="32.25" y="298.33" width="10.72" height="10.63" fill="#2a788e"/><rect x="42.67" y="298.33" width="10.72" height="10.63" fill="#2a788e"/><rect x="53.08" y="298.33" width="10.72" height="10.63" fill="#306c8e"/><rect x="63.50" y="298.33" width="10.72" height="10.63" fill="#306c8e"/><rect x="73.92" y="298.33" width="10.72" height="10.63" fill="#355f8d"/><rect x="84.33" y="298.33" width="10.72" height="10.63" fill="#355f8d"/><rect x="94.75" y="298.33" width="10.72" height="10.63" fill="#2a788e"/><rect x="105.17" y="298.33" width="10.72" height="10.63" fill="#355f8d"/><rect x="115.58" y="298.33" width="20.72" height="10.63" fill="#306c8e"/><rect x="-9.00" y="308.67" width="20.72" height="20.63" fill="#482475"/><rect x="11.42" y="308.67" width="10.72" height="20.63" fill="#2a788e"/><rect x="21.83" y="308.67" width="10.72" height="20.63" fill="#26848d"/><rect x="32.25" y="308.67" width="10.72" height="20.63" fill="#2a788e"/><rect x="42.67" y="308.67" width="10.72" height="20.63" fill="#26848d"/><rect x="53.08" y="308.67" width="10.72" height="20.63" fill="#2a788e"/><rect x="63.50" y="308.67" width="10.72" height="20.63" fill="#26848d"/><rect x="73.92" y="308.67" width="10.72" height="20.63" fill="#26848d"/><rect x="84.33" y="308.67" width="10.72" height="20.63" fill="#2a788e"/><rect x="94.75" y="308.67" width="10.72" height="20.63" fill="#2a788e"/><rect x="105.17" y="308.67" width="10.72" height="20.63" fill="#306c8e"/><rect x="115.58" y="308.67" width="20.72" height="20.63" fill="#2a788e"/></g>
<path d="M127.0 195.3 C125.3 195.6 119.4 196.6 116.6 197.0 C113.8 197.4 112.2 197.5 110.0 197.9 C107.8 198.3 105.8 198.7 103.3 199.2 C100.8 199.7 97.8 200.1 95.0 200.8 C92.2 201.5 89.4 202.3 86.6 203.3 C83.8 204.3 80.6 205.6 78.3 206.6 C76.0 207.6 74.9 208.3 72.6 209.4 C70.3 210.5 67.3 211.7 64.4 212.9 C61.5 214.1 57.7 215.1 55.0 216.4 C52.3 217.8 50.3 219.2 48.0 221.0 C45.7 222.8 43.3 225.0 41.0 226.9 C38.7 228.8 36.3 230.8 34.0 232.7 C31.7 234.6 28.8 236.9 27.0 238.5 C25.2 240.1 25.2 240.1 23.5 242.0 C21.8 243.9 18.8 247.3 17.0 250.0 C15.2 252.7 13.9 255.3 12.5 258.0 C11.1 260.7 9.4 263.3 8.3 266.0 C7.2 268.7 6.6 271.4 6.0 274.0 C5.4 276.6 5.4 279.5 4.8 281.3 C4.2 283.1 2.9 284.4 2.5 285.0" fill="none" stroke="#22a884" stroke-width="20.0" stroke-linecap="round" filter="url(#cxp5)"/>
<g filter="url(#fp5)">
<ellipse cx="23.0" cy="277.5" rx="5.0" ry="3.5" fill="#9cd83c" transform="rotate(-10.0 23.0 277.5)"/>
<ellipse cx="14.0" cy="304.0" rx="8.0" ry="4.0" fill="#471d6e" transform="rotate(0.0 14.0 304.0)"/>
<ellipse cx="23.0" cy="277.5" rx="2.5" ry="1.8" fill="#dde326" transform="rotate(-10.0 23.0 277.5)"/>
<ellipse cx="48.0" cy="271.0" rx="4.0" ry="2.5" fill="#414487" transform="rotate(20.0 48.0 271.0)"/>
<ellipse cx="84.0" cy="259.5" rx="3.5" ry="2.0" fill="#3f4988" transform="rotate(0.0 84.0 259.5)"/>
<ellipse cx="79.0" cy="298.0" rx="16.0" ry="2.5" fill="#44347e" transform="rotate(0.0 79.0 298.0)"/>
<ellipse cx="49.0" cy="225.0" rx="2.5" ry="4.0" fill="#29ad80" transform="rotate(30.0 49.0 225.0)"/>
<ellipse cx="33.0" cy="241.0" rx="2.5" ry="4.0" fill="#29ad80" transform="rotate(30.0 33.0 241.0)"/>
<ellipse cx="95.0" cy="204.0" rx="4.0" ry="2.0" fill="#29ad80" transform="rotate(0.0 95.0 204.0)"/>
</g>
<path d="M127.0 195.3 C125.3 195.6 119.4 196.6 116.6 197.0 C113.8 197.4 112.2 197.5 110.0 197.9 C107.8 198.3 105.8 198.7 103.3 199.2 C100.8 199.7 97.8 200.1 95.0 200.8 C92.2 201.5 89.4 202.3 86.6 203.3 C83.8 204.3 80.6 205.6 78.3 206.6 C76.0 207.6 74.9 208.3 72.6 209.4 C70.3 210.5 67.3 211.7 64.4 212.9 C61.5 214.1 57.7 215.1 55.0 216.4 C52.3 217.8 50.3 219.2 48.0 221.0 C45.7 222.8 43.3 225.0 41.0 226.9 C38.7 228.8 36.3 230.8 34.0 232.7 C31.7 234.6 28.8 236.9 27.0 238.5 C25.2 240.1 25.2 240.1 23.5 242.0 C21.8 243.9 18.8 247.3 17.0 250.0 C15.2 252.7 13.9 255.3 12.5 258.0 C11.1 260.7 9.4 263.3 8.3 266.0 C7.2 268.7 6.6 271.4 6.0 274.0 C5.4 276.6 5.4 279.5 4.8 281.3 C4.2 283.1 2.9 284.4 2.5 285.0 L4.6 288.4 L5.5 297.6 L7.0 298.5 L8.4 300.0 L9.0 310.0 L10.0 319.0 L10.0 325.0 L-5.0 325.0 L-5.0 190.0 L130.0 190.0Z" fill="#440154" stroke="#472a79" stroke-width="2.0" stroke-linejoin="round" filter="url(#edge)"/>
</g>
<path d="M117.5 195.00H126.00V319.00H1.00V195.00H12" fill="none" stroke="#000" stroke-width="1.4" stroke-linejoin="miter"/>
<path d="M12 195.30H117.5" stroke="#9a9a9a" stroke-width="1"/>
<g clip-path="url(#cp6)">
<rect x="1.00" y="360.00" width="125.00" height="124.00" fill="#440154"/>
<g filter="url(#bp6)"><rect x="-9.00" y="350.00" width="20.72" height="20.63" fill="#21918c"/><rect x="11.42" y="350.00" width="10.72" height="20.63" fill="#238b8c"/><rect x="21.83" y="350.00" width="10.72" height="20.63" fill="#26848d"/><rect x="32.25" y="350.00" width="10.72" height="20.63" fill="#238b8c"/><rect x="42.67" y="350.00" width="10.72" height="20.63" fill="#21918c"/><rect x="53.08" y="350.00" width="10.72" height="20.63" fill="#21918c"/><rect x="63.50" y="350.00" width="10.72" height="20.63" fill="#21918c"/><rect x="73.92" y="350.00" width="10.72" height="20.63" fill="#26848d"/><rect x="84.33" y="350.00" width="10.72" height="20.63" fill="#306c8e"/><rect x="94.75" y="350.00" width="10.72" height="20.63" fill="#26848d"/><rect x="105.17" y="350.00" width="10.72" height="20.63" fill="#26848d"/><rect x="115.58" y="350.00" width="20.72" height="20.63" fill="#2a788e"/><rect x="-9.00" y="370.33" width="20.72" height="10.63" fill="#21918c"/><rect x="11.42" y="370.33" width="10.72" height="10.63" fill="#21918c"/><rect x="21.83" y="370.33" width="10.72" height="10.63" fill="#238b8c"/><rect x="32.25" y="370.33" width="10.72" height="10.63" fill="#26848d"/><rect x="42.67" y="370.33" width="10.72" height="10.63" fill="#238b8c"/><rect x="53.08" y="370.33" width="10.72" height="10.63" fill="#21918c"/><rect x="63.50" y="370.33" width="10.72" height="10.63" fill="#21918c"/><rect x="73.92" y="370.33" width="10.72" height="10.63" fill="#229c88"/><rect x="84.33" y="370.33" width="10.72" height="10.63" fill="#21918c"/><rect x="94.75" y="370.33" width="10.72" height="10.63" fill="#26848d"/><rect x="105.17" y="370.33" width="10.72" height="10.63" fill="#2a788e"/><rect x="115.58" y="370.33" width="20.72" height="10.63" fill="#26848d"/><rect x="-9.00" y="380.67" width="20.72" height="10.63" fill="#21918c"/><rect x="11.42" y="380.67" width="10.72" height="10.63" fill="#21918c"/><rect x="21.83" y="380.67" width="10.72" height="10.63" fill="#21918c"/><rect x="32.25" y="380.67" width="10.72" height="10.63" fill="#238b8c"/><rect x="42.67" y="380.67" width="10.72" height="10.63" fill="#26848d"/><rect x="53.08" y="380.67" width="10.72" height="10.63" fill="#21918c"/><rect x="63.50" y="380.67" width="10.72" height="10.63" fill="#21918c"/><rect x="73.92" y="380.67" width="10.72" height="10.63" fill="#26848d"/><rect x="84.33" y="380.67" width="10.72" height="10.63" fill="#2a788e"/><rect x="94.75" y="380.67" width="10.72" height="10.63" fill="#2a788e"/><rect x="105.17" y="380.67" width="10.72" height="10.63" fill="#306c8e"/><rect x="115.58" y="380.67" width="20.72" height="10.63" fill="#2a788e"/><rect x="-9.00" y="391.00" width="20.72" height="10.63" fill="#21918c"/><rect x="11.42" y="391.00" width="10.72" height="10.63" fill="#21918c"/><rect x="21.83" y="391.00" width="10.72" height="10.63" fill="#21918c"/><rect x="32.25" y="391.00" width="10.72" height="10.63" fill="#21918c"/><rect x="42.67" y="391.00" width="10.72" height="10.63" fill="#21918c"/><rect x="53.08" y="391.00" width="10.72" height="10.63" fill="#26848d"/><rect x="63.50" y="391.00" width="10.72" height="10.63" fill="#26848d"/><rect x="73.92" y="391.00" width="10.72" height="10.63" fill="#355f8d"/><rect x="84.33" y="391.00" width="10.72" height="10.63" fill="#2a788e"/><rect x="94.75" y="391.00" width="10.72" height="10.63" fill="#306c8e"/><rect x="105.17" y="391.00" width="10.72" height="10.63" fill="#306c8e"/><rect x="115.58" y="391.00" width="20.72" height="10.63" fill="#306c8e"/><rect x="-9.00" y="401.33" width="20.72" height="10.63" fill="#21918c"/><rect x="11.42" y="401.33" width="10.72" height="10.63" fill="#21918c"/><rect x="21.83" y="401.33" width="10.72" height="10.63" fill="#21918c"/><rect x="32.25" y="401.33" width="10.72" height="10.63" fill="#21918c"/><rect x="42.67" y="401.33" width="10.72" height="10.63" fill="#21918c"/><rect x="53.08" y="401.33" width="10.72" height="10.63" fill="#21918c"/><rect x="63.50" y="401.33" width="10.72" height="10.63" fill="#26848d"/><rect x="73.92" y="401.33" width="10.72" height="10.63" fill="#2a788e"/><rect x="84.33" y="401.33" width="10.72" height="10.63" fill="#2a788e"/><rect x="94.75" y="401.33" width="10.72" height="10.63" fill="#306c8e"/><rect x="105.17" y="401.33" width="10.72" height="10.63" fill="#306c8e"/><rect x="115.58" y="401.33" width="20.72" height="10.63" fill="#2a788e"/><rect x="-9.00" y="411.67" width="20.72" height="10.63" fill="#26848d"/><rect x="11.42" y="411.67" width="10.72" height="10.63" fill="#21918c"/><rect x="21.83" y="411.67" width="10.72" height="10.63" fill="#229c88"/><rect x="32.25" y="411.67" width="10.72" height="10.63" fill="#26848d"/><rect x="42.67" y="411.67" width="10.72" height="10.63" fill="#26848d"/><rect x="53.08" y="411.67" width="10.72" height="10.63" fill="#26848d"/><rect x="63.50" y="411.67" width="10.72" height="10.63" fill="#306c8e"/><rect x="73.92" y="411.67" width="10.72" height="10.63" fill="#355f8d"/><rect x="84.33" y="411.67" width="10.72" height="10.63" fill="#355f8d"/><rect x="94.75" y="411.67" width="10.72" height="10.63" fill="#355f8d"/><rect x="105.17" y="411.67" width="10.72" height="10.63" fill="#306c8e"/><rect x="115.58" y="411.67" width="20.72" height="10.63" fill="#2a788e"/><rect x="-9.00" y="422.00" width="20.72" height="10.63" fill="#2a788e"/><rect x="11.42" y="422.00" width="10.72" height="10.63" fill="#229c88"/><rect x="21.83" y="422.00" width="10.72" height="10.63" fill="#21918c"/><rect x="32.25" y="422.00" width="10.72" height="10.63" fill="#21918c"/><rect x="42.67" y="422.00" width="10.72" height="10.63" fill="#306c8e"/><rect x="53.08" y="422.00" width="10.72" height="10.63" fill="#355f8d"/><rect x="63.50" y="422.00" width="10.72" height="10.63" fill="#355f8d"/><rect x="73.92" y="422.00" width="10.72" height="10.63" fill="#3b528a"/><rect x="84.33" y="422.00" width="10.72" height="10.63" fill="#355f8d"/><rect x="94.75" y="422.00" width="10.72" height="10.63" fill="#355f8d"/><rect x="105.17" y="422.00" width="10.72" height="10.63" fill="#306c8e"/><rect x="115.58" y="422.00" width="20.72" height="10.63" fill="#2a788e"/><rect x="-9.00" y="432.33" width="20.72" height="10.63" fill="#21918c"/><rect x="11.42" y="432.33" width="10.72" height="10.63" fill="#229c88"/><rect x="21.83" y="432.33" width="10.72" height="10.63" fill="#21918c"/><rect x="32.25" y="432.33" width="10.72" height="10.63" fill="#26848d"/><rect x="42.67" y="432.33" width="10.72" height="10.63" fill="#306c8e"/><rect x="53.08" y="432.33" width="10.72" height="10.63" fill="#306c8e"/><rect x="63.50" y="432.33" width="10.72" height="10.63" fill="#306c8e"/><rect x="73.92" y="432.33" width="10.72" height="10.63" fill="#355f8d"/><rect x="84.33" y="432.33" width="10.72" height="10.63" fill="#355f8d"/><rect x="94.75" y="432.33" width="10.72" height="10.63" fill="#355f8d"/><rect x="105.17" y="432.33" width="10.72" height="10.63" fill="#306c8e"/><rect x="115.58" y="432.33" width="20.72" height="10.63" fill="#2a788e"/><rect x="-9.00" y="442.67" width="20.72" height="10.63" fill="#21918c"/><rect x="11.42" y="442.67" width="10.72" height="10.63" fill="#21918c"/><rect x="21.83" y="442.67" width="10.72" height="10.63" fill="#229c88"/><rect x="32.25" y="442.67" width="10.72" height="10.63" fill="#26848d"/><rect x="42.67" y="442.67" width="10.72" height="10.63" fill="#26848d"/><rect x="53.08" y="442.67" width="10.72" height="10.63" fill="#2a788e"/><rect x="63.50" y="442.67" width="10.72" height="10.63" fill="#2a788e"/><rect x="73.92" y="442.67" width="10.72" height="10.63" fill="#2a788e"/><rect x="84.33" y="442.67" width="10.72" height="10.63" fill="#2a788e"/><rect x="94.75" y="442.67" width="10.72" height="10.63" fill="#306c8e"/><rect x="105.17" y="442.67" width="10.72" height="10.63" fill="#355f8d"/><rect x="115.58" y="442.67" width="20.72" height="10.63" fill="#306c8e"/><rect x="-9.00" y="453.00" width="20.72" height="10.63" fill="#26848d"/><rect x="11.42" y="453.00" width="10.72" height="10.63" fill="#21918c"/><rect x="21.83" y="453.00" width="10.72" height="10.63" fill="#26848d"/><rect x="32.25" y="453.00" width="10.72" height="10.63" fill="#26848d"/><rect x="42.67" y="453.00" width="10.72" height="10.63" fill="#2a788e"/><rect x="53.08" y="453.00" width="10.72" height="10.63" fill="#306c8e"/><rect x="63.50" y="453.00" width="10.72" height="10.63" fill="#414487"/><rect x="73.92" y="453.00" width="10.72" height="10.63" fill="#414487"/><rect x="84.33" y="453.00" width="10.72" height="10.63" fill="#414487"/><rect x="94.75" y="453.00" width="10.72" height="10.63" fill="#2a788e"/><rect x="105.17" y="453.00" width="10.72" height="10.63" fill="#414487"/><rect x="115.58" y="453.00" width="20.72" height="10.63" fill="#355f8d"/><rect x="-9.00" y="463.33" width="20.72" height="10.63" fill="#482475"/><rect x="11.42" y="463.33" width="10.72" height="10.63" fill="#3b528a"/><rect x="21.83" y="463.33" width="10.72" height="10.63" fill="#2a788e"/><rect x="32.25" y="463.33" width="10.72" height="10.63" fill="#2a788e"/><rect x="42.67" y="463.33" width="10.72" height="10.63" fill="#306c8e"/><rect x="53.08" y="463.33" width="10.72" height="10.63" fill="#306c8e"/><rect x="63.50" y="463.33" width="10.72" height="10.63" fill="#306c8e"/><rect x="73.92" y="463.33" width="10.72" height="10.63" fill="#306c8e"/><rect x="84.33" y="463.33" width="10.72" height="10.63" fill="#355f8d"/><rect x="94.75" y="463.33" width="10.72" height="10.63" fill="#2a788e"/><rect x="105.17" y="463.33" width="10.72" height="10.63" fill="#3b528a"/><rect x="115.58" y="463.33" width="20.72" height="10.63" fill="#355f8d"/><rect x="-9.00" y="473.67" width="20.72" height="20.63" fill="#482475"/><rect x="11.42" y="473.67" width="10.72" height="20.63" fill="#26848d"/><rect x="21.83" y="473.67" width="10.72" height="20.63" fill="#2a788e"/><rect x="32.25" y="473.67" width="10.72" height="20.63" fill="#26848d"/><rect x="42.67" y="473.67" width="10.72" height="20.63" fill="#26848d"/><rect x="53.08" y="473.67" width="10.72" height="20.63" fill="#2a788e"/><rect x="63.50" y="473.67" width="10.72" height="20.63" fill="#306c8e"/><rect x="73.92" y="473.67" width="10.72" height="20.63" fill="#2a788e"/><rect x="84.33" y="473.67" width="10.72" height="20.63" fill="#306c8e"/><rect x="94.75" y="473.67" width="10.72" height="20.63" fill="#2a788e"/><rect x="105.17" y="473.67" width="10.72" height="20.63" fill="#355f8d"/><rect x="115.58" y="473.67" width="20.72" height="20.63" fill="#306c8e"/></g>
<path d="M127.0 360.3 C123.8 360.7 112.3 361.8 107.5 362.5 C102.7 363.2 101.2 363.8 98.1 364.8 C95.0 365.8 91.9 367.3 88.8 368.7 C85.7 370.1 83.1 372.0 79.4 373.4 C75.8 374.8 70.6 376.1 66.9 377.3 C63.3 378.5 60.6 379.0 57.5 380.4 C54.4 381.8 51.2 383.9 48.1 385.9 C45.0 387.9 41.7 390.0 38.8 392.2 C35.9 394.4 33.2 396.7 30.9 399.2 C28.5 401.7 26.9 404.4 24.7 407.0 C22.4 409.6 19.2 412.2 17.4 414.5 C15.6 416.8 15.2 418.1 13.8 421.0 C12.4 423.9 10.6 428.5 9.2 432.0 C7.8 435.5 6.6 439.3 5.5 442.0 C4.4 444.7 3.0 447.0 2.5 448.0" fill="none" stroke="#22a186" stroke-width="20.0" stroke-linecap="round" filter="url(#cxp6)"/>
<g filter="url(#fp6)">
<ellipse cx="15.5" cy="428.0" rx="2.5" ry="3.5" fill="#bddf26" transform="rotate(0.0 15.5 428.0)"/>
<ellipse cx="13.0" cy="469.0" rx="7.0" ry="3.5" fill="#471d6e" transform="rotate(0.0 13.0 469.0)"/>
<ellipse cx="13.0" cy="452.0" rx="2.5" ry="5.0" fill="#9cd83c" transform="rotate(10.0 13.0 452.0)"/>
<ellipse cx="28.0" cy="447.0" rx="2.0" ry="3.5" fill="#44bf70" transform="rotate(0.0 28.0 447.0)"/>
<ellipse cx="79.0" cy="462.0" rx="16.0" ry="2.5" fill="#44347e" transform="rotate(0.0 79.0 462.0)"/>
<ellipse cx="115.0" cy="461.0" rx="5.0" ry="2.5" fill="#44347e" transform="rotate(0.0 115.0 461.0)"/>
<ellipse cx="63.0" cy="394.0" rx="2.5" ry="3.5" fill="#33b47a" transform="rotate(30.0 63.0 394.0)"/>
<ellipse cx="43.0" cy="408.0" rx="2.5" ry="3.5" fill="#22a884" transform="rotate(20.0 43.0 408.0)"/>
</g>
<path d="M127.0 360.3 C123.8 360.7 112.3 361.8 107.5 362.5 C102.7 363.2 101.2 363.8 98.1 364.8 C95.0 365.8 91.9 367.3 88.8 368.7 C85.7 370.1 83.1 372.0 79.4 373.4 C75.8 374.8 70.6 376.1 66.9 377.3 C63.3 378.5 60.6 379.0 57.5 380.4 C54.4 381.8 51.2 383.9 48.1 385.9 C45.0 387.9 41.7 390.0 38.8 392.2 C35.9 394.4 33.2 396.7 30.9 399.2 C28.5 401.7 26.9 404.4 24.7 407.0 C22.4 409.6 19.2 412.2 17.4 414.5 C15.6 416.8 15.2 418.1 13.8 421.0 C12.4 423.9 10.6 428.5 9.2 432.0 C7.8 435.5 6.6 439.3 5.5 442.0 C4.4 444.7 3.0 447.0 2.5 448.0 L4.2 454.2 L5.5 462.0 L7.0 463.5 L8.4 465.6 L9.0 475.0 L10.0 484.0 L10.0 490.0 L-5.0 490.0 L-5.0 355.0 L130.0 355.0Z" fill="#440154" stroke="#472a79" stroke-width="2.0" stroke-linejoin="round" filter="url(#edge)"/>
</g>
<rect x="1.00" y="360.00" width="125.00" height="124.00" fill="none" stroke="#000" stroke-width="1.4"/>
<g clip-path="url(#cp7)">
<rect x="559.00" y="195.00" width="124.50" height="124.00" fill="#440154"/>
<g filter="url(#bp7)"><rect x="549.00" y="185.00" width="20.68" height="20.63" fill="#21918c"/><rect x="569.38" y="185.00" width="10.68" height="20.63" fill="#26848d"/><rect x="579.75" y="185.00" width="10.68" height="20.63" fill="#2a788e"/><rect x="590.12" y="185.00" width="10.68" height="20.63" fill="#2a788e"/><rect x="600.50" y="185.00" width="10.68" height="20.63" fill="#2a788e"/><rect x="610.88" y="185.00" width="10.68" height="20.63" fill="#26848d"/><rect x="621.25" y="185.00" width="10.68" height="20.63" fill="#26848d"/><rect x="631.62" y="185.00" width="10.68" height="20.63" fill="#26848d"/><rect x="642.00" y="185.00" width="10.68" height="20.63" fill="#2d728e"/><rect x="652.38" y="185.00" width="10.68" height="20.63" fill="#306c8e"/><rect x="662.75" y="185.00" width="10.68" height="20.63" fill="#21918c"/><rect x="673.12" y="185.00" width="20.68" height="20.63" fill="#26848d"/><rect x="549.00" y="205.33" width="20.68" height="10.63" fill="#21918c"/><rect x="569.38" y="205.33" width="10.68" height="10.63" fill="#21918c"/><rect x="579.75" y="205.33" width="10.68" height="10.63" fill="#26848d"/><rect x="590.12" y="205.33" width="10.68" height="10.63" fill="#2a788e"/><rect x="600.50" y="205.33" width="10.68" height="10.63" fill="#2a788e"/><rect x="610.88" y="205.33" width="10.68" height="10.63" fill="#26848d"/><rect x="621.25" y="205.33" width="10.68" height="10.63" fill="#26848d"/><rect x="631.62" y="205.33" width="10.68" height="10.63" fill="#26848d"/><rect x="642.00" y="205.33" width="10.68" height="10.63" fill="#2a788e"/><rect x="652.38" y="205.33" width="10.68" height="10.63" fill="#26848d"/><rect x="662.75" y="205.33" width="10.68" height="10.63" fill="#2a788e"/><rect x="673.12" y="205.33" width="20.68" height="10.63" fill="#2a788e"/><rect x="549.00" y="215.67" width="20.68" height="10.63" fill="#21918c"/><rect x="569.38" y="215.67" width="10.68" height="10.63" fill="#21918c"/><rect x="579.75" y="215.67" width="10.68" height="10.63" fill="#21918c"/><rect x="590.12" y="215.67" width="10.68" height="10.63" fill="#26848d"/><rect x="600.50" y="215.67" width="10.68" height="10.63" fill="#2a788e"/><rect x="610.88" y="215.67" width="10.68" height="10.63" fill="#26848d"/><rect x="621.25" y="215.67" width="10.68" height="10.63" fill="#26848d"/><rect x="631.62" y="215.67" width="10.68" height="10.63" fill="#2a788e"/><rect x="642.00" y="215.67" width="10.68" height="10.63" fill="#2a788e"/><rect x="652.38" y="215.67" width="10.68" height="10.63" fill="#21918c"/><rect x="662.75" y="215.67" width="10.68" height="10.63" fill="#306c8e"/><rect x="673.12" y="215.67" width="20.68" height="10.63" fill="#306c8e"/><rect x="549.00" y="226.00" width="20.68" height="10.63" fill="#238b8c"/><rect x="569.38" y="226.00" width="10.68" height="10.63" fill="#21918c"/><rect x="579.75" y="226.00" width="10.68" height="10.63" fill="#21918c"/><rect x="590.12" y="226.00" width="10.68" height="10.63" fill="#21918c"/><rect x="600.50" y="226.00" width="10.68" height="10.63" fill="#26848d"/><rect x="610.88" y="226.00" width="10.68" height="10.63" fill="#2a788e"/><rect x="621.25" y="226.00" width="10.68" height="10.63" fill="#306c8e"/><rect x="631.62" y="226.00" width="10.68" height="10.63" fill="#306c8e"/><rect x="642.00" y="226.00" width="10.68" height="10.63" fill="#2a788e"/><rect x="652.38" y="226.00" width="10.68" height="10.63" fill="#21918c"/><rect x="662.75" y="226.00" width="10.68" height="10.63" fill="#306c8e"/><rect x="673.12" y="226.00" width="20.68" height="10.63" fill="#306c8e"/><rect x="549.00" y="236.33" width="20.68" height="10.63" fill="#26848d"/><rect x="569.38" y="236.33" width="10.68" height="10.63" fill="#238b8c"/><rect x="579.75" y="236.33" width="10.68" height="10.63" fill="#21918c"/><rect x="590.12" y="236.33" width="10.68" height="10.63" fill="#26848d"/><rect x="600.50" y="236.33" width="10.68" height="10.63" fill="#26848d"/><rect x="610.88" y="236.33" width="10.68" height="10.63" fill="#2a788e"/><rect x="621.25" y="236.33" width="10.68" height="10.63" fill="#306c8e"/><rect x="631.62" y="236.33" width="10.68" height="10.63" fill="#2a788e"/><rect x="642.00" y="236.33" width="10.68" height="10.63" fill="#26848d"/><rect x="652.38" y="236.33" width="10.68" height="10.63" fill="#26848d"/><rect x="662.75" y="236.33" width="10.68" height="10.63" fill="#2a788e"/><rect x="673.12" y="236.33" width="20.68" height="10.63" fill="#2a788e"/><rect x="549.00" y="246.67" width="20.68" height="10.63" fill="#26848d"/><rect x="569.38" y="246.67" width="10.68" height="10.63" fill="#26848d"/><rect x="579.75" y="246.67" width="10.68" height="10.63" fill="#26848d"/><rect x="590.12" y="246.67" width="10.68" height="10.63" fill="#26848d"/><rect x="600.50" y="246.67" width="10.68" height="10.63" fill="#26848d"/><rect x="610.88" y="246.67" width="10.68" height="10.63" fill="#21918c"/><rect x="621.25" y="246.67" width="10.68" height="10.63" fill="#26848d"/><rect x="631.62" y="246.67" width="10.68" height="10.63" fill="#26848d"/><rect x="642.00" y="246.67" width="10.68" height="10.63" fill="#2a788e"/><rect x="652.38" y="246.67" width="10.68" height="10.63" fill="#2a788e"/><rect x="662.75" y="246.67" width="10.68" height="10.63" fill="#2a788e"/><rect x="673.12" y="246.67" width="20.68" height="10.63" fill="#2a788e"/><rect x="549.00" y="257.00" width="20.68" height="10.63" fill="#26848d"/><rect x="569.38" y="257.00" width="10.68" height="10.63" fill="#229c88"/><rect x="579.75" y="257.00" width="10.68" height="10.63" fill="#26848d"/><rect x="590.12" y="257.00" width="10.68" height="10.63" fill="#21918c"/><rect x="600.50" y="257.00" width="10.68" height="10.63" fill="#21918c"/><rect x="610.88" y="257.00" width="10.68" height="10.63" fill="#26848d"/><rect x="621.25" y="257.00" width="10.68" height="10.63" fill="#26848d"/><rect x="631.62" y="257.00" width="10.68" height="10.63" fill="#26848d"/><rect x="642.00" y="257.00" width="10.68" height="10.63" fill="#355f8d"/><rect x="652.38" y="257.00" width="10.68" height="10.63" fill="#306c8e"/><rect x="662.75" y="257.00" width="10.68" height="10.63" fill="#306c8e"/><rect x="673.12" y="257.00" width="20.68" height="10.63" fill="#306c8e"/><rect x="549.00" y="267.33" width="20.68" height="10.63" fill="#21918c"/><rect x="569.38" y="267.33" width="10.68" height="10.63" fill="#21918c"/><rect x="579.75" y="267.33" width="10.68" height="10.63" fill="#21918c"/><rect x="590.12" y="267.33" width="10.68" height="10.63" fill="#21918c"/><rect x="600.50" y="267.33" width="10.68" height="10.63" fill="#21918c"/><rect x="610.88" y="267.33" width="10.68" height="10.63" fill="#2a788e"/><rect x="621.25" y="267.33" width="10.68" height="10.63" fill="#26848d"/><rect x="631.62" y="267.33" width="10.68" height="10.63" fill="#2a788e"/><rect x="642.00" y="267.33" width="10.68" height="10.63" fill="#355f8d"/><rect x="652.38" y="267.33" width="10.68" height="10.63" fill="#355f8d"/><rect x="662.75" y="267.33" width="10.68" height="10.63" fill="#355f8d"/><rect x="673.12" y="267.33" width="20.68" height="10.63" fill="#355f8d"/><rect x="549.00" y="277.67" width="20.68" height="10.63" fill="#21918c"/><rect x="569.38" y="277.67" width="10.68" height="10.63" fill="#229c88"/><rect x="579.75" y="277.67" width="10.68" height="10.63" fill="#26848d"/><rect x="590.12" y="277.67" width="10.68" height="10.63" fill="#26848d"/><rect x="600.50" y="277.67" width="10.68" height="10.63" fill="#26848d"/><rect x="610.88" y="277.67" width="10.68" height="10.63" fill="#2a788e"/><rect x="621.25" y="277.67" width="10.68" height="10.63" fill="#2a788e"/><rect x="631.62" y="277.67" width="10.68" height="10.63" fill="#306c8e"/><rect x="642.00" y="277.67" width="10.68" height="10.63" fill="#355f8d"/><rect x="652.38" y="277.67" width="10.68" height="10.63" fill="#355f8d"/><rect x="662.75" y="277.67" width="10.68" height="10.63" fill="#355f8d"/><rect x="673.12" y="277.67" width="20.68" height="10.63" fill="#355f8d"/><rect x="549.00" y="288.00" width="20.68" height="10.63" fill="#355f8d"/><rect x="569.38" y="288.00" width="10.68" height="10.63" fill="#26848d"/><rect x="579.75" y="288.00" width="10.68" height="10.63" fill="#2a788e"/><rect x="590.12" y="288.00" width="10.68" height="10.63" fill="#2a788e"/><rect x="600.50" y="288.00" width="10.68" height="10.63" fill="#2a788e"/><rect x="610.88" y="288.00" width="10.68" height="10.63" fill="#306c8e"/><rect x="621.25" y="288.00" width="10.68" height="10.63" fill="#3b528a"/><rect x="631.62" y="288.00" width="10.68" height="10.63" fill="#355f8d"/><rect x="642.00" y="288.00" width="10.68" height="10.63" fill="#44347e"/><rect x="652.38" y="288.00" width="10.68" height="10.63" fill="#44347e"/><rect x="662.75" y="288.00" width="10.68" height="10.63" fill="#414487"/><rect x="673.12" y="288.00" width="20.68" height="10.63" fill="#355f8d"/><rect x="549.00" y="298.33" width="20.68" height="10.63" fill="#461264"/><rect x="569.38" y="298.33" width="10.68" height="10.63" fill="#44347e"/><rect x="579.75" y="298.33" width="10.68" height="10.63" fill="#2a788e"/><rect x="590.12" y="298.33" width="10.68" height="10.63" fill="#26848d"/><rect x="600.50" y="298.33" width="10.68" height="10.63" fill="#2a788e"/><rect x="610.88" y="298.33" width="10.68" height="10.63" fill="#26848d"/><rect x="621.25" y="298.33" width="10.68" height="10.63" fill="#2a788e"/><rect x="631.62" y="298.33" width="10.68" height="10.63" fill="#2a788e"/><rect x="642.00" y="298.33" width="10.68" height="10.63" fill="#355f8d"/><rect x="652.38" y="298.33" width="10.68" height="10.63" fill="#355f8d"/><rect x="662.75" y="298.33" width="10.68" height="10.63" fill="#3b528a"/><rect x="673.12" y="298.33" width="20.68" height="10.63" fill="#355f8d"/><rect x="549.00" y="308.67" width="20.68" height="20.63" fill="#482475"/><rect x="569.38" y="308.67" width="10.68" height="20.63" fill="#2a788e"/><rect x="579.75" y="308.67" width="10.68" height="20.63" fill="#26848d"/><rect x="590.12" y="308.67" width="10.68" height="20.63" fill="#26848d"/><rect x="600.50" y="308.67" width="10.68" height="20.63" fill="#26848d"/><rect x="610.88" y="308.67" width="10.68" height="20.63" fill="#2a788e"/><rect x="621.25" y="308.67" width="10.68" height="20.63" fill="#2a788e"/><rect x="631.62" y="308.67" width="10.68" height="20.63" fill="#2a788e"/><rect x="642.00" y="308.67" width="10.68" height="20.63" fill="#2a788e"/><rect x="652.38" y="308.67" width="10.68" height="20.63" fill="#306c8e"/><rect x="662.75" y="308.67" width="10.68" height="20.63" fill="#306c8e"/><rect x="673.12" y="308.67" width="20.68" height="20.63" fill="#355f8d"/></g>
<path d="M680.0 195.3 C677.6 195.5 669.5 196.1 665.5 196.7 C661.5 197.3 659.5 198.0 656.1 199.0 C652.7 200.0 648.8 201.6 645.2 202.9 C641.6 204.2 637.7 205.5 634.3 206.8 C630.9 208.1 628.0 209.5 624.9 210.8 C621.8 212.1 618.6 213.3 615.5 214.7 C612.4 216.1 609.0 217.8 606.1 219.3 C603.2 220.9 600.9 222.2 598.3 224.0 C595.7 225.8 592.8 228.1 590.5 230.3 C588.2 232.5 586.1 235.2 584.3 237.3 C582.5 239.4 581.1 241.0 579.6 242.8 C578.1 244.6 577.0 245.6 575.4 248.0 C573.8 250.4 571.5 254.3 570.0 257.0 C568.5 259.7 567.6 261.3 566.5 264.0 C565.4 266.7 564.2 270.0 563.5 273.0 C562.8 276.0 562.4 279.2 562.0 282.0 C561.6 284.8 561.3 288.7 561.2 290.0" fill="none" stroke="#229c88" stroke-width="12.0" stroke-linecap="round" filter="url(#cxp7)"/>
<g filter="url(#fp7)">
<path d="M583.3 272.8 L593.5 268.7 L600.6 262.6 L605.8 258.5 L612.9 255.4 L621.0 252.4 L627.2 250.8 L633.3 248.3" fill="none" stroke="#229f87" stroke-width="8.0" stroke-linecap="round" stroke-linejoin="round"/>
<path d="M633.3 248.3 L645.0 247.0 L660.0 246.0 L674.3 246.0" fill="none" stroke="#229c88" stroke-width="3.0" stroke-linecap="round" stroke-linejoin="round"/>
<path d="M583.3 272.8 L593.5 268.7 L600.6 262.6 L605.8 258.5 L612.9 255.4 L621.0 252.4 L627.2 250.8 L633.3 248.3" fill="none" stroke="#7ad151" stroke-width="3.5" stroke-linecap="round" stroke-linejoin="round"/>
<ellipse cx="593.5" cy="269.2" rx="3.0" ry="2.0" fill="#cae126" transform="rotate(-30.0 593.5 269.2)"/>
<ellipse cx="603.7" cy="259.5" rx="2.5" ry="1.8" fill="#b0dc2f" transform="rotate(-35.0 603.7 259.5)"/>
<path d="M593.5 273.8 L600.0 275.5 L605.8 276.9" fill="none" stroke="#5fc860" stroke-width="3.0" stroke-linecap="round" stroke-linejoin="round"/>
<ellipse cx="600.0" cy="232.0" rx="3.0" ry="2.5" fill="#44bf70" transform="rotate(0.0 600.0 232.0)"/>
<ellipse cx="653.0" cy="224.0" rx="2.5" ry="2.5" fill="#44bf70" transform="rotate(0.0 653.0 224.0)"/>
<ellipse cx="655.0" cy="232.0" rx="3.0" ry="1.8" fill="#22a884" transform="rotate(0.0 655.0 232.0)"/>
<ellipse cx="572.0" cy="290.0" rx="2.5" ry="2.0" fill="#44bf70" transform="rotate(0.0 572.0 290.0)"/>
<ellipse cx="571.0" cy="303.0" rx="6.0" ry="3.0" fill="#461668" transform="rotate(0.0 571.0 303.0)"/>
<ellipse cx="660.0" cy="293.0" rx="14.0" ry="4.0" fill="#462e7a" transform="rotate(0.0 660.0 293.0)"/>
<ellipse cx="640.0" cy="292.0" rx="7.0" ry="2.0" fill="#414487" transform="rotate(0.0 640.0 292.0)"/>
</g>
<path d="M680.0 195.3 C677.6 195.5 669.5 196.1 665.5 196.7 C661.5 197.3 659.5 198.0 656.1 199.0 C652.7 200.0 648.8 201.6 645.2 202.9 C641.6 204.2 637.7 205.5 634.3 206.8 C630.9 208.1 628.0 209.5 624.9 210.8 C621.8 212.1 618.6 213.3 615.5 214.7 C612.4 216.1 609.0 217.8 606.1 219.3 C603.2 220.9 600.9 222.2 598.3 224.0 C595.7 225.8 592.8 228.1 590.5 230.3 C588.2 232.5 586.1 235.2 584.3 237.3 C582.5 239.4 581.1 241.0 579.6 242.8 C578.1 244.6 577.0 245.6 575.4 248.0 C573.8 250.4 571.5 254.3 570.0 257.0 C568.5 259.7 567.6 261.3 566.5 264.0 C565.4 266.7 564.2 270.0 563.5 273.0 C562.8 276.0 562.4 279.2 562.0 282.0 C561.6 284.8 561.3 288.7 561.2 290.0 L562.5 293.0 L563.7 294.8 L565.6 298.6 L567.0 302.0 L567.5 308.0 L566.6 313.0 L565.6 319.0 L565.0 325.0 L550.0 325.0 L550.0 190.0 L690.0 190.0Z" fill="#440154" stroke="#472a79" stroke-width="2.0" stroke-linejoin="round" filter="url(#edge)"/>
</g>
<rect x="559.00" y="195.00" width="124.50" height="124.00" fill="none" stroke="#000" stroke-width="1.4"/>
<g clip-path="url(#cp8)">
<rect x="559.00" y="360.00" width="124.50" height="124.00" fill="#440154"/>
<g filter="url(#bp8)"><rect x="549.00" y="350.00" width="20.68" height="20.63" fill="#26848d"/><rect x="569.38" y="350.00" width="10.68" height="20.63" fill="#287e8e"/><rect x="579.75" y="350.00" width="10.68" height="20.63" fill="#2a788e"/><rect x="590.12" y="350.00" width="10.68" height="20.63" fill="#2a788e"/><rect x="600.50" y="350.00" width="10.68" height="20.63" fill="#2a788e"/><rect x="610.88" y="350.00" width="10.68" height="20.63" fill="#2a788e"/><rect x="621.25" y="350.00" width="10.68" height="20.63" fill="#2a788e"/><rect x="631.62" y="350.00" width="10.68" height="20.63" fill="#26848d"/><rect x="642.00" y="350.00" width="10.68" height="20.63" fill="#2a788e"/><rect x="652.38" y="350.00" width="10.68" height="20.63" fill="#306c8e"/><rect x="662.75" y="350.00" width="10.68" height="20.63" fill="#21918c"/><rect x="673.12" y="350.00" width="20.68" height="20.63" fill="#26848d"/><rect x="549.00" y="370.33" width="20.68" height="10.63" fill="#26848d"/><rect x="569.38" y="370.33" width="10.68" height="10.63" fill="#26848d"/><rect x="579.75" y="370.33" width="10.68" height="10.63" fill="#287e8e"/><rect x="590.12" y="370.33" width="10.68" height="10.63" fill="#2a788e"/><rect x="600.50" y="370.33" width="10.68" height="10.63" fill="#2a788e"/><rect x="610.88" y="370.33" width="10.68" height="10.63" fill="#287e8e"/><rect x="621.25" y="370.33" width="10.68" height="10.63" fill="#2a788e"/><rect x="631.62" y="370.33" width="10.68" height="10.63" fill="#26848d"/><rect x="642.00" y="370.33" width="10.68" height="10.63" fill="#26848d"/><rect x="652.38" y="370.33" width="10.68" height="10.63" fill="#26848d"/><rect x="662.75" y="370.33" width="10.68" height="10.63" fill="#26848d"/><rect x="673.12" y="370.33" width="20.68" height="10.63" fill="#2a788e"/><rect x="549.00" y="380.67" width="20.68" height="10.63" fill="#26848d"/><rect x="569.38" y="380.67" width="10.68" height="10.63" fill="#26848d"/><rect x="579.75" y="380.67" width="10.68" height="10.63" fill="#26848d"/><rect x="590.12" y="380.67" width="10.68" height="10.63" fill="#287e8e"/><rect x="600.50" y="380.67" width="10.68" height="10.63" fill="#2a788e"/><rect x="610.88" y="380.67" width="10.68" height="10.63" fill="#26848d"/><rect x="621.25" y="380.67" width="10.68" height="10.63" fill="#2a788e"/><rect x="631.62" y="380.67" width="10.68" height="10.63" fill="#306c8e"/><rect x="642.00" y="380.67" width="10.68" height="10.63" fill="#355f8d"/><rect x="652.38" y="380.67" width="10.68" height="10.63" fill="#26848d"/><rect x="662.75" y="380.67" width="10.68" height="10.63" fill="#306c8e"/><rect x="673.12" y="380.67" width="20.68" height="10.63" fill="#2a788e"/><rect x="549.00" y="391.00" width="20.68" height="10.63" fill="#26848d"/><rect x="569.38" y="391.00" width="10.68" height="10.63" fill="#26848d"/><rect x="579.75" y="391.00" width="10.68" height="10.63" fill="#26848d"/><rect x="590.12" y="391.00" width="10.68" height="10.63" fill="#26848d"/><rect x="600.50" y="391.00" width="10.68" height="10.63" fill="#26848d"/><rect x="610.88" y="391.00" width="10.68" height="10.63" fill="#2a788e"/><rect x="621.25" y="391.00" width="10.68" height="10.63" fill="#306c8e"/><rect x="631.62" y="391.00" width="10.68" height="10.63" fill="#306c8e"/><rect x="642.00" y="391.00" width="10.68" height="10.63" fill="#306c8e"/><rect x="652.38" y="391.00" width="10.68" height="10.63" fill="#229c88"/><rect x="662.75" y="391.00" width="10.68" height="10.63" fill="#355f8d"/><rect x="673.12" y="391.00" width="20.68" height="10.63" fill="#306c8e"/><rect x="549.00" y="401.33" width="20.68" height="10.63" fill="#26848d"/><rect x="569.38" y="401.33" width="10.68" height="10.63" fill="#26848d"/><rect x="579.75" y="401.33" width="10.68" height="10.63" fill="#26848d"/><rect x="590.12" y="401.33" width="10.68" height="10.63" fill="#26848d"/><rect x="600.50" y="401.33" width="10.68" height="10.63" fill="#2a788e"/><rect x="610.88" y="401.33" width="10.68" height="10.63" fill="#306c8e"/><rect x="621.25" y="401.33" width="10.68" height="10.63" fill="#306c8e"/><rect x="631.62" y="401.33" width="10.68" height="10.63" fill="#306c8e"/><rect x="642.00" y="401.33" width="10.68" height="10.63" fill="#2a788e"/><rect x="652.38" y="401.33" width="10.68" height="10.63" fill="#229c88"/><rect x="662.75" y="401.33" width="10.68" height="10.63" fill="#2a788e"/><rect x="673.12" y="401.33" width="20.68" height="10.63" fill="#306c8e"/><rect x="549.00" y="411.67" width="20.68" height="10.63" fill="#26848d"/><rect x="569.38" y="411.67" width="10.68" height="10.63" fill="#26848d"/><rect x="579.75" y="411.67" width="10.68" height="10.63" fill="#26848d"/><rect x="590.12" y="411.67" width="10.68" height="10.63" fill="#26848d"/><rect x="600.50" y="411.67" width="10.68" height="10.63" fill="#21918c"/><rect x="610.88" y="411.67" width="10.68" height="10.63" fill="#21918c"/><rect x="621.25" y="411.67" width="10.68" height="10.63" fill="#26848d"/><rect x="631.62" y="411.67" width="10.68" height="10.63" fill="#26848d"/><rect x="642.00" y="411.67" width="10.68" height="10.63" fill="#26848d"/><rect x="652.38" y="411.67" width="10.68" height="10.63" fill="#26848d"/><rect x="662.75" y="411.67" width="10.68" height="10.63" fill="#306c8e"/><rect x="673.12" y="411.67" width="20.68" height="10.63" fill="#306c8e"/><rect x="549.00" y="422.00" width="20.68" height="10.63" fill="#26848d"/><rect x="569.38" y="422.00" width="10.68" height="10.63" fill="#229c88"/><rect x="579.75" y="422.00" width="10.68" height="10.63" fill="#21918c"/><rect x="590.12" y="422.00" width="10.68" height="10.63" fill="#229c88"/><rect x="600.50" y="422.00" width="10.68" height="10.63" fill="#21918c"/><rect x="610.88" y="422.00" width="10.68" height="10.63" fill="#26848d"/><rect x="621.25" y="422.00" width="10.68" height="10.63" fill="#26848d"/><rect x="631.62" y="422.00" width="10.68" height="10.63" fill="#355f8d"/><rect x="642.00" y="422.00" width="10.68" height="10.63" fill="#355f8d"/><rect x="652.38" y="422.00" width="10.68" height="10.63" fill="#306c8e"/><rect x="662.75" y="422.00" width="10.68" height="10.63" fill="#306c8e"/><rect x="673.12" y="422.00" width="20.68" height="10.63" fill="#306c8e"/><rect x="549.00" y="432.33" width="20.68" height="10.63" fill="#21918c"/><rect x="569.38" y="432.33" width="10.68" height="10.63" fill="#229c88"/><rect x="579.75" y="432.33" width="10.68" height="10.63" fill="#229c88"/><rect x="590.12" y="432.33" width="10.68" height="10.63" fill="#21918c"/><rect x="600.50" y="432.33" width="10.68" height="10.63" fill="#21918c"/><rect x="610.88" y="432.33" width="10.68" height="10.63" fill="#26848d"/><rect x="621.25" y="432.33" width="10.68" height="10.63" fill="#21918c"/><rect x="631.62" y="432.33" width="10.68" height="10.63" fill="#306c8e"/><rect x="642.00" y="432.33" width="10.68" height="10.63" fill="#355f8d"/><rect x="652.38" y="432.33" width="10.68" height="10.63" fill="#355f8d"/><rect x="662.75" y="432.33" width="10.68" height="10.63" fill="#355f8d"/><rect x="673.12" y="432.33" width="20.68" height="10.63" fill="#306c8e"/><rect x="549.00" y="442.67" width="20.68" height="10.63" fill="#229c88"/><rect x="569.38" y="442.67" width="10.68" height="10.63" fill="#21918c"/><rect x="579.75" y="442.67" width="10.68" height="10.63" fill="#21918c"/><rect x="590.12" y="442.67" width="10.68" height="10.63" fill="#26848d"/><rect x="600.50" y="442.67" width="10.68" height="10.63" fill="#2a788e"/><rect x="610.88" y="442.67" width="10.68" height="10.63" fill="#2a788e"/><rect x="621.25" y="442.67" width="10.68" height="10.63" fill="#2a788e"/><rect x="631.62" y="442.67" width="10.68" height="10.63" fill="#306c8e"/><rect x="642.00" y="442.67" width="10.68" height="10.63" fill="#355f8d"/><rect x="652.38" y="442.67" width="10.68" height="10.63" fill="#355f8d"/><rect x="662.75" y="442.67" width="10.68" height="10.63" fill="#355f8d"/><rect x="673.12" y="442.67" width="20.68" height="10.63" fill="#355f8d"/><rect x="549.00" y="453.00" width="20.68" height="10.63" fill="#306c8e"/><rect x="569.38" y="453.00" width="10.68" height="10.63" fill="#26848d"/><rect x="579.75" y="453.00" width="10.68" height="10.63" fill="#2a788e"/><rect x="590.12" y="453.00" width="10.68" height="10.63" fill="#2a788e"/><rect x="600.50" y="453.00" width="10.68" height="10.63" fill="#2a788e"/><rect x="610.88" y="453.00" width="10.68" height="10.63" fill="#306c8e"/><rect x="621.25" y="453.00" width="10.68" height="10.63" fill="#355f8d"/><rect x="631.62" y="453.00" width="10.68" height="10.63" fill="#355f8d"/><rect x="642.00" y="453.00" width="10.68" height="10.63" fill="#44347e"/><rect x="652.38" y="453.00" width="10.68" height="10.63" fill="#414487"/><rect x="662.75" y="453.00" width="10.68" height="10.63" fill="#3b528a"/><rect x="673.12" y="453.00" width="20.68" height="10.63" fill="#355f8d"/><rect x="549.00" y="463.33" width="20.68" height="10.63" fill="#461264"/><rect x="569.38" y="463.33" width="10.68" height="10.63" fill="#3b528a"/><rect x="579.75" y="463.33" width="10.68" height="10.63" fill="#2a788e"/><rect x="590.12" y="463.33" width="10.68" height="10.63" fill="#2a788e"/><rect x="600.50" y="463.33" width="10.68" height="10.63" fill="#2a788e"/><rect x="610.88" y="463.33" width="10.68" height="10.63" fill="#2a788e"/><rect x="621.25" y="463.33" width="10.68" height="10.63" fill="#2a788e"/><rect x="631.62" y="463.33" width="10.68" height="10.63" fill="#26848d"/><rect x="642.00" y="463.33" width="10.68" height="10.63" fill="#306c8e"/><rect x="652.38" y="463.33" width="10.68" height="10.63" fill="#355f8d"/><rect x="662.75" y="463.33" width="10.68" height="10.63" fill="#355f8d"/><rect x="673.12" y="463.33" width="20.68" height="10.63" fill="#306c8e"/><rect x="549.00" y="473.67" width="20.68" height="20.63" fill="#482475"/><rect x="569.38" y="473.67" width="10.68" height="20.63" fill="#26848d"/><rect x="579.75" y="473.67" width="10.68" height="20.63" fill="#26848d"/><rect x="590.12" y="473.67" width="10.68" height="20.63" fill="#26848d"/><rect x="600.50" y="473.67" width="10.68" height="20.63" fill="#21918c"/><rect x="610.88" y="473.67" width="10.68" height="20.63" fill="#26848d"/><rect x="621.25" y="473.67" width="10.68" height="20.63" fill="#26848d"/><rect x="631.62" y="473.67" width="10.68" height="20.63" fill="#26848d"/><rect x="642.00" y="473.67" width="10.68" height="20.63" fill="#2a788e"/><rect x="652.38" y="473.67" width="10.68" height="20.63" fill="#306c8e"/><rect x="662.75" y="473.67" width="10.68" height="20.63" fill="#306c8e"/><rect x="673.12" y="473.67" width="20.68" height="20.63" fill="#306c8e"/></g>
<path d="M680.0 360.3 C677.1 360.5 667.2 361.1 662.4 361.7 C657.6 362.3 655.0 363.0 651.4 364.0 C647.8 365.0 644.1 366.5 640.5 367.9 C636.9 369.3 633.0 371.2 629.6 372.6 C626.2 374.0 623.3 375.1 620.2 376.5 C617.1 377.9 613.7 379.6 610.8 381.2 C607.9 382.8 605.6 384.2 603.0 385.9 C600.4 387.6 597.8 389.3 595.2 391.4 C592.6 393.5 589.8 396.1 587.4 398.4 C585.0 400.7 583.1 403.0 581.1 405.4 C579.1 407.8 577.2 410.2 575.4 413.0 C573.5 415.8 571.5 419.3 570.0 422.0 C568.5 424.7 567.6 426.3 566.5 429.0 C565.4 431.7 564.2 435.0 563.5 438.0 C562.8 441.0 562.4 444.2 562.0 447.0 C561.6 449.8 561.3 453.7 561.2 455.0" fill="none" stroke="#229c88" stroke-width="12.0" stroke-linecap="round" filter="url(#cxp8)"/>
<g filter="url(#fp8)">
<path d="M573.8 440.9 L586.9 435.0 L594.2 430.7 L601.5 424.8 L608.8 420.4 L617.6 416.8 L627.8 413.9" fill="none" stroke="#36b678" stroke-width="8.0" stroke-linecap="round" stroke-linejoin="round"/>
<path d="M578.0 439.0 L586.9 435.0 L594.2 430.7 L601.5 424.8 L608.8 420.4 L617.6 416.8" fill="none" stroke="#7ad151" stroke-width="3.5" stroke-linecap="round" stroke-linejoin="round"/>
<ellipse cx="590.5" cy="434.5" rx="4.0" ry="2.2" fill="#d0e126" transform="rotate(-30.0 590.5 434.5)"/>
<path d="M636.5 417.5 L645.0 417.8 L652.6 418.2" fill="none" stroke="#4fc36a" stroke-width="2.5" stroke-linecap="round" stroke-linejoin="round"/>
<path d="M586.9 442.3 L597.0 440.0 L608.8 438.0" fill="none" stroke="#3dba74" stroke-width="3.0" stroke-linecap="round" stroke-linejoin="round"/>
<path d="M623.4 433.6 L629.2 436.5" fill="none" stroke="#22a884" stroke-width="3.0" stroke-linecap="round" stroke-linejoin="round"/>
<ellipse cx="655.5" cy="405.8" rx="3.0" ry="2.5" fill="#29ad80" transform="rotate(0.0 655.5 405.8)"/>
<path d="M653.0 390.0 L655.0 397.0 L656.0 405.0" fill="none" stroke="#29ad80" stroke-width="3.5" stroke-linecap="round" stroke-linejoin="round"/>
<ellipse cx="625.0" cy="436.0" rx="3.0" ry="2.5" fill="#22a884" transform="rotate(0.0 625.0 436.0)"/>
<ellipse cx="575.0" cy="430.0" rx="2.5" ry="4.0" fill="#44bf70" transform="rotate(0.0 575.0 430.0)"/>
<ellipse cx="571.0" cy="468.0" rx="6.0" ry="3.0" fill="#461668" transform="rotate(0.0 571.0 468.0)"/>
<ellipse cx="655.0" cy="457.0" rx="13.0" ry="4.5" fill="#472a79" transform="rotate(0.0 655.0 457.0)"/>
<ellipse cx="626.0" cy="461.0" rx="5.0" ry="2.0" fill="#414487" transform="rotate(0.0 626.0 461.0)"/>
</g>
<path d="M680.0 360.3 C677.1 360.5 667.2 361.1 662.4 361.7 C657.6 362.3 655.0 363.0 651.4 364.0 C647.8 365.0 644.1 366.5 640.5 367.9 C636.9 369.3 633.0 371.2 629.6 372.6 C626.2 374.0 623.3 375.1 620.2 376.5 C617.1 377.9 613.7 379.6 610.8 381.2 C607.9 382.8 605.6 384.2 603.0 385.9 C600.4 387.6 597.8 389.3 595.2 391.4 C592.6 393.5 589.8 396.1 587.4 398.4 C585.0 400.7 583.1 403.0 581.1 405.4 C579.1 407.8 577.2 410.2 575.4 413.0 C573.5 415.8 571.5 419.3 570.0 422.0 C568.5 424.7 567.6 426.3 566.5 429.0 C565.4 431.7 564.2 435.0 563.5 438.0 C562.8 441.0 562.4 444.2 562.0 447.0 C561.6 449.8 561.3 453.7 561.2 455.0 L562.5 458.0 L563.7 459.8 L565.6 463.6 L567.0 467.0 L567.5 473.0 L566.6 478.0 L565.6 484.0 L565.0 490.0 L550.0 490.0 L550.0 355.0 L690.0 355.0Z" fill="#440154" stroke="#472a79" stroke-width="2.0" stroke-linejoin="round" filter="url(#edge)"/>
</g>
<rect x="559.00" y="360.00" width="124.50" height="124.00" fill="none" stroke="#000" stroke-width="1.4"/>
<path d="M566.8 0V27M669.8 0V27M118.6 168.3V195M14.8 330.3V360M14.8 330.3H115.7V360M569.8 165.3V195M569.8 165.3H674.2V195M573 330.3V360M573 330.3H674.2V360" stroke="#e6e6e6" stroke-width="1" fill="none"/>
<text class="t" transform="translate(39.20 17.20) scale(1.060 1)">3T b</text><text class="t" style="font-size:16.0px" transform="translate(78.00 21.80) scale(0.850 1)">0</text>
<text class="t" transform="translate(224.60 18.20) scale(1.060 1)">3T FA</text>
<text class="t" transform="translate(410.30 18.10) scale(1.060 1)">7T FA</text>
<text class="t" transform="translate(593.60 17.50) scale(1.060 1)">7T b</text><text class="t" style="font-size:16.0px" transform="translate(632.50 22.00) scale(0.850 1)">0</text>
<text class="t" transform="translate(27.60 185.60) scale(1.060 1)">3T DWI</text><text class="t" style="font-size:15.0px" transform="translate(92.00 190.00) scale(1.000 1)">1</text>
<text class="t" transform="translate(28.60 348.70) scale(1.060 1)">3T DWI</text><text class="t" style="font-size:15.0px" transform="translate(92.60 352.80) scale(1.100 1)">2</text>
<text class="t" transform="translate(584.00 183.70) scale(1.060 1)">7T DWI</text><text class="t" style="font-size:15.0px" transform="translate(649.60 187.80) scale(1.000 1)">1</text>
<text class="t" transform="translate(585.90 348.70) scale(1.060 1)">7T DWI</text><text class="t" style="font-size:15.0px" transform="translate(650.60 352.80) scale(1.100 1)">2</text>
<g id="plot">
<rect x="185.0" y="195.3" width="315.2" height="288.7" fill="#fff"/>
<path d="M198.4 195.3V484.0M256.4 195.3V484.0M314.4 195.3V484.0M372.3 195.3V484.0M430.3 195.3V484.0M488.3 195.3V484.0M185.0 471.7H500.2M185.0 438.3H500.2M185.0 404.9H500.2M185.0 371.4H500.2M185.0 338.0H500.2M185.0 304.6H500.2M185.0 271.1H500.2M185.0 237.7H500.2M185.0 204.3H500.2" stroke="#b0b0b0" stroke-width="1.1" fill="none"/>
<polyline points="199.3,465.0 202.0,438.7 204.7,404.0 207.2,350.0 209.5,304.4 211.0,280.0 212.4,260.0 213.9,236.6 215.3,237.8 216.5,234.5 219.3,216.0 221.0,212.6 222.7,207.8 226.2,240.0 228.5,243.0 231.3,224.0 234.2,221.7 239.5,270.3 244.8,270.7 246.8,280.0 253.7,306.7 256.7,335.0 259.8,323.5 262.8,341.1 265.9,334.2 269.0,381.2 271.6,356.8 274.3,383.4 276.6,384.2 278.0,384.0 282.6,396.2 288.7,382.1 291.0,387.8 294.5,393.1 297.9,385.5 303.2,398.4 308.8,378.6 315.4,396.2 317.7,397.7 320.8,403.5 323.4,385.5 325.7,388.5 329.0,370.2 331.8,380.9 334.8,399.2 337.6,390.1 340.2,389.3 344.0,385.2 346.3,385.5 349.3,387.8 352.3,386.2 355.6,389.2 358.0,402.9 361.1,402.9 364.1,411.3 367.2,400.6 370.2,402.6 375.6,402.6 379.4,412.0 382.4,418.9 386.3,425.0 389.8,420.9 393.9,429.5 398.2,428.0 401.3,431.0 403.9,429.0 407.2,442.8 410.2,437.4 413.3,443.5 417.9,447.3 420.9,448.9 425.5,453.4 430.1,448.4 435.4,459.5 440.7,461.8 442.9,463.9 445.7,467.7 447.6,469.2 450.0,467.7 452.9,470.6 455.3,469.9 459.1,469.6 464.8,470.1 468.7,469.4 472.5,470.3 476.3,470.6 479.2,469.2 482.0,470.6 484.9,453.9" fill="none" stroke="#1f77b4" stroke-width="2.1" stroke-linejoin="round" stroke-linecap="butt"/>
<polyline points="199.3,465.0 202.0,438.7 204.7,404.0 207.2,350.0 209.5,305.0 210.3,303.9 213.3,298.2 214.5,270.0 214.7,260.0 217.8,236.0 221.0,256.0 224.5,256.0 226.7,240.6 229.6,260.0 230.3,270.0 231.5,280.0 236.1,310.5 240.7,324.3 243.4,317.4 246.1,340.0 248.4,356.0 251.4,356.3 254.5,365.9 256.8,359.8 259.8,384.2 262.6,385.4 265.2,407.1 268.2,407.4 271.3,410.1 276.3,403.7 278.8,419.0 281.9,425.9 287.2,412.2 292.5,426.6 298.6,412.2 300.9,409.9 303.7,430.5 307.0,402.3 309.8,416.7 312.3,413.7 315.0,414.5 318.8,417.5 321.9,416.0 324.1,412.6 329.5,412.2 331.8,398.4 334.5,412.2 337.6,408.4 340.2,425.1 343.2,390.8 346.3,395.4 348.8,412.2 351.6,412.2 354.3,396.9 356.9,405.3 361.1,412.8 365.4,429.5 368.4,414.3 372.5,418.9 376.3,428.5 379.4,413.5 382.4,429.5 384.7,430.3 387.8,426.5 391.6,430.3 395.4,434.1 398.8,432.9 404.5,439.7 408.0,437.4 410.2,439.3 413.3,435.9 415.6,439.0 417.6,449.6 420.9,446.6 423.2,448.9 426.3,456.5 429.8,449.6 432.3,453.0 434.9,459.5 440.4,455.7 441.9,457.7 444.8,460.4 448.6,459.8 451.5,461.5 453.8,465.3 456.2,467.7 459.1,466.1 462.0,466.8 465.8,465.1 468.2,465.8 470.6,467.7 473.9,465.8" fill="none" stroke="#ff7f0e" stroke-width="2.1" stroke-linejoin="round" stroke-linecap="butt"/>
<rect x="185.0" y="195.3" width="315.2" height="288.7" fill="none" stroke="#000" stroke-width="1.4"/>
<path d="M198.4 484.0v6M256.4 484.0v6M314.4 484.0v6M372.3 484.0v6M430.3 484.0v6M488.3 484.0v6M185.0 471.7h-6M185.0 438.3h-6M185.0 404.9h-6M185.0 371.4h-6M185.0 338.0h-6M185.0 304.6h-6M185.0 271.1h-6M185.0 237.7h-6M185.0 204.3h-6" stroke="#000" stroke-width="1.2" fill="none"/>
<text class="tk" x="198.4" y="507" text-anchor="middle">0.0</text>
<text class="tk" x="256.4" y="507" text-anchor="middle">0.2</text>
<text class="tk" x="314.4" y="507" text-anchor="middle">0.4</text>
<text class="tk" x="372.3" y="507" text-anchor="middle">0.6</text>
<text class="tk" x="430.3" y="507" text-anchor="middle">0.8</text>
<text class="tk" x="488.3" y="507" text-anchor="middle">1.0</text>
<text class="tk" x="174.6" y="478.0" text-anchor="end">0</text>
<text class="tk" x="172.8" y="444.6" text-anchor="end">50</text>
<text class="tk" x="172.8" y="411.2" text-anchor="end">100</text>
<text class="tk" x="172.8" y="377.7" text-anchor="end">150</text>
<text class="tk" x="172.8" y="344.3" text-anchor="end">200</text>
<text class="tk" x="172.8" y="310.9" text-anchor="end">250</text>
<text class="tk" x="172.8" y="277.4" text-anchor="end">300</text>
<text class="tk" x="172.8" y="244.0" text-anchor="end">350</text>
<text class="tk" x="172.8" y="210.6" text-anchor="end">400</text>
<text class="lb" x="336.5" y="521.5" text-anchor="middle">voxel intensity</text>
<text class="lb" transform="translate(140.8 309.7) rotate(-90)" text-anchor="middle">no. of voxels</text>
<rect x="416.5" y="203.7" width="76.3" height="51.3" rx="3" ry="3" fill="#fff" fill-opacity="0.8" stroke="#cccccc" stroke-width="1.1"/>
<path d="M421 214.9H454.6" stroke="#1f77b4" stroke-width="2.1"/>
<path d="M421 238.2H454.6" stroke="#ff7f0e" stroke-width="2.1"/>
<text class="tk" x="465.5" y="221.2">7T</text>
<text class="tk" x="465.5" y="244.5">3T</text>
</g>
</g>
</svg></body></html>
